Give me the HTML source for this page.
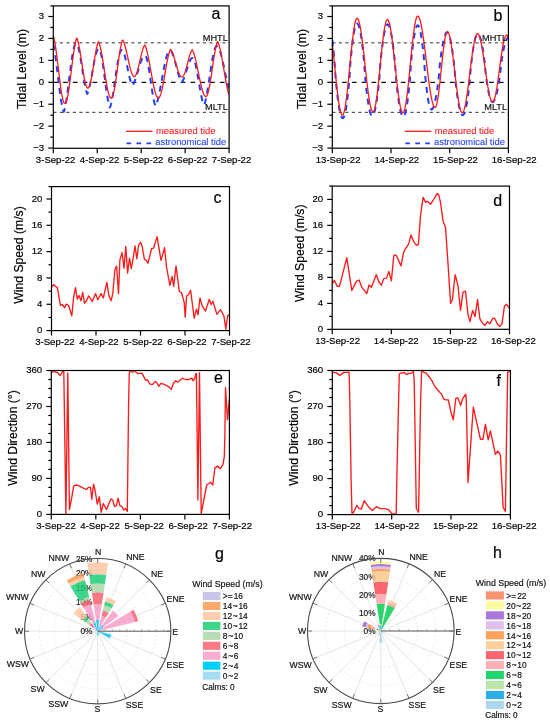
<!DOCTYPE html>
<html><head><meta charset="utf-8"><title>Tide and wind figure</title>
<style>html,body{margin:0;padding:0;background:#fff;}svg{display:block;}</style></head>
<body>
<svg width="550" height="723" viewBox="0 0 550 723" font-family='"Liberation Sans", Arial, sans-serif'><g>
<line x1="53.3" y1="42.83" x2="229.1" y2="42.83" stroke="#333" stroke-width="1.0" stroke-dasharray="3.2,3.3"/>
<line x1="53.3" y1="112.34" x2="229.1" y2="112.34" stroke="#333" stroke-width="1.0" stroke-dasharray="3.2,3.3"/>
<line x1="53.3" y1="82.3" x2="229.1" y2="82.3" stroke="#111" stroke-width="1.3" stroke-dasharray="4.7,5.1"/>
<clipPath id="cpa"><rect x="53.3" y="5.9" width="175.8" height="142.4"/></clipPath>
<polyline points="53.3,44.41 53.8,46.68 54.3,49.33 54.8,52.32 55.3,55.61 55.8,59.16 56.3,62.93 56.8,66.86 57.3,70.91 57.8,75.02 58.3,79.15 58.8,83.23 59.3,87.23 59.8,91.09 60.3,94.77 60.8,98.22 61.3,101.41 61.8,104.3 62.3,106.86 62.8,109.08 63.3,110.92 63.8,111.86 64.3,110.28 64.8,108.33 65.3,106.01 65.8,103.36 66.3,100.4 66.8,97.16 67.3,93.68 67.8,90 68.3,86.16 68.8,82.22 69.3,78.22 69.8,74.21 70.3,70.26 70.8,66.4 71.3,62.7 71.8,59.2 72.3,55.95 72.8,52.99 73.3,50.36 73.8,48.11 74.3,46.26 74.8,44.84 75.3,43.86 75.8,43.35 76.3,43.3 76.8,43.68 77.3,44.47 77.8,45.67 78.3,47.25 78.8,49.19 79.3,51.45 79.8,53.99 80.3,56.77 80.8,59.75 81.3,62.88 81.8,66.1 82.3,69.36 82.8,72.61 83.3,75.8 83.8,78.88 84.3,81.8 84.8,84.52 85.3,87 85.8,89.2 86.3,91.11 86.8,92.68 87.3,93.92 87.8,92.84 88.3,91.46 88.8,89.81 89.3,87.89 89.8,85.74 90.3,83.38 90.8,80.84 91.3,78.15 91.8,75.37 92.3,72.53 92.8,69.67 93.3,66.83 93.8,64.07 94.3,61.43 94.8,58.94 95.3,56.65 95.8,54.6 96.3,52.82 96.8,51.33 97.3,50.16 97.8,49.34 98.3,48.86 98.8,48.76 99.3,49.1 99.8,49.93 100.3,51.24 100.8,52.99 101.3,55.16 101.8,57.72 102.3,60.62 102.8,63.81 103.3,67.24 103.8,70.85 104.3,74.58 104.8,78.37 105.3,82.17 105.8,85.9 106.3,89.52 106.8,92.96 107.3,96.18 107.8,99.12 108.3,101.76 108.8,104.04 109.3,105.96 109.8,107.48 110.3,106.7 110.8,105.08 111.3,103.13 111.8,100.85 112.3,98.29 112.8,95.45 113.3,92.39 113.8,89.15 114.3,85.75 114.8,82.26 115.3,78.73 115.8,75.19 116.3,71.71 116.8,68.34 117.3,65.12 117.8,62.11 118.3,59.34 118.8,56.87 119.3,54.72 119.8,52.93 120.3,51.54 120.8,50.55 121.3,49.98 121.8,49.85 122.3,50.08 122.8,50.64 123.3,51.51 123.8,52.69 124.3,54.14 124.8,55.84 125.3,57.76 125.8,59.86 126.3,62.1 126.8,64.44 127.3,66.85 127.8,69.26 128.3,71.66 128.8,73.98 129.3,76.19 129.8,78.25 130.3,80.14 130.8,81.81 131.3,83.25 131.8,84.44 132.3,85.37 132.8,84.74 133.3,83.95 133.8,83.01 134.3,81.93 134.8,80.71 135.3,79.38 135.8,77.94 136.3,76.42 136.8,74.82 137.3,73.17 137.8,71.48 138.3,69.79 138.8,68.1 139.3,66.45 139.8,64.84 140.3,63.31 140.8,61.87 141.3,60.54 141.8,59.34 142.3,58.28 142.8,57.38 143.3,56.65 143.8,56.1 144.3,55.74 144.8,55.56 145.3,55.63 145.8,56.16 146.3,57.16 146.8,58.62 147.3,60.49 147.8,62.76 148.3,65.37 148.8,68.27 149.3,71.41 149.8,74.73 150.3,78.17 150.8,81.66 151.3,85.15 151.8,88.56 152.3,91.84 152.8,94.92 153.3,97.77 153.8,100.33 154.3,102.56 154.8,104.44 155.3,105.93 155.8,105.83 156.3,104.66 156.8,103.27 157.3,101.66 157.8,99.85 158.3,97.84 158.8,95.66 159.3,93.32 159.8,90.84 160.3,88.25 160.8,85.57 161.3,82.82 161.8,80.03 162.3,77.22 162.8,74.43 163.3,71.68 163.8,69 164.3,66.41 164.8,63.95 165.3,61.63 165.8,59.47 166.3,57.51 166.8,55.76 167.3,54.24 167.8,52.96 168.3,51.94 168.8,51.18 169.3,50.7 169.8,50.51 170.3,50.58 170.8,50.89 171.3,51.43 171.8,52.2 172.3,53.18 172.8,54.36 173.3,55.72 173.8,57.24 174.3,58.89 174.8,60.66 175.3,62.51 175.8,64.43 176.3,66.37 176.8,68.31 177.3,70.22 177.8,72.09 178.3,73.87 178.8,75.55 179.3,77.11 179.8,78.52 180.3,79.77 180.8,80.84 181.3,81.73 181.8,82.19 182.3,81.53 182.8,80.7 183.3,79.71 183.8,78.56 184.3,77.28 184.8,75.88 185.3,74.39 185.8,72.82 186.3,71.22 186.8,69.59 187.3,67.97 187.8,66.4 188.3,64.88 188.8,63.47 189.3,62.17 189.8,61.01 190.3,60.01 190.8,59.2 191.3,58.58 191.8,58.17 192.3,57.98 192.8,58.03 193.3,58.44 193.8,59.22 194.3,60.35 194.8,61.82 195.3,63.6 195.8,65.67 196.3,67.99 196.8,70.52 197.3,73.23 197.8,76.07 198.3,78.99 198.8,81.96 199.3,84.93 199.8,87.85 200.3,90.67 200.8,93.37 201.3,95.89 201.8,98.22 202.3,100.3 202.8,102.12 203.3,103.67 203.8,104.91 204.3,104.61 204.8,103.17 205.3,101.42 205.8,99.38 206.3,97.08 206.8,94.52 207.3,91.75 207.8,88.78 208.3,85.66 208.8,82.42 209.3,79.1 209.8,75.74 210.3,72.38 210.8,69.06 211.3,65.83 211.8,62.73 212.3,59.79 212.8,57.06 213.3,54.57 213.8,52.35 214.3,50.44 214.8,48.85 215.3,47.61 215.8,46.74 216.3,46.24 216.8,46.12 217.3,46.29 217.8,46.68 218.3,47.31 218.8,48.17 219.3,49.24 219.8,50.52 220.3,51.98 220.8,53.63 221.3,55.44 221.8,57.4 222.3,59.48 222.8,61.68 223.3,63.95 223.8,66.29 224.3,68.68 224.8,71.08 225.3,73.49 225.8,75.87 226.3,78.2 226.8,80.47 227.3,82.66 227.8,84.74 228.3,86.69 228.8,88.51" fill="none" stroke="#1f3cff" stroke-width="2.0" stroke-linejoin="round" stroke-dasharray="6,5" clip-path="url(#cpa)"/>
<polyline points="53.3,35.82 53.8,37.64 54.3,39.85 54.8,42.44 55.3,45.38 55.8,48.64 56.3,52.17 56.8,55.94 57.3,59.89 57.8,63.96 58.3,68.11 58.8,72.27 59.3,76.39 59.8,80.4 60.3,84.25 60.8,87.88 61.3,91.23 61.8,94.27 62.3,96.93 62.8,99.19 63.3,101 63.8,102.35 64.3,103.21 64.8,103.56 65.3,103.41 65.8,102.77 66.3,101.65 66.8,100.06 67.3,98.03 67.8,95.59 68.3,92.78 68.8,89.63 69.3,86.21 69.8,82.55 70.3,78.72 70.8,74.76 71.3,70.75 71.8,66.73 72.3,62.77 72.8,58.91 73.3,55.22 73.8,51.74 74.3,48.52 74.8,45.6 75.3,43.02 75.8,40.8 76.3,38.96 76.8,38 77.3,39.3 77.8,40.94 78.3,42.9 78.8,45.15 79.3,47.67 79.8,50.42 80.3,53.36 80.8,56.45 81.3,59.65 81.8,62.89 82.3,66.14 82.8,69.33 83.3,72.41 83.8,75.34 84.3,78.07 84.8,80.55 85.3,82.74 85.8,84.59 86.3,86.09 86.8,87.21 87.3,87.92 87.8,88.21 88.3,88.08 88.8,87.52 89.3,86.53 89.8,85.13 90.3,83.36 90.8,81.24 91.3,78.81 91.8,76.13 92.3,73.24 92.8,70.19 93.3,67.04 93.8,63.84 94.3,60.66 94.8,57.55 95.3,54.57 95.8,51.76 96.3,49.17 96.8,46.84 97.3,44.81 97.8,43.1 98.3,41.74 98.8,41.98 99.3,43.37 99.8,45.05 100.3,47.01 100.8,49.24 101.3,51.7 101.8,54.37 102.3,57.22 102.8,60.23 103.3,63.35 103.8,66.55 104.3,69.79 104.8,73.02 105.3,76.21 105.8,79.32 106.3,82.31 106.8,85.14 107.3,87.77 107.8,90.17 108.3,92.3 108.8,94.15 109.3,95.67 109.8,96.87 110.3,97.71 110.8,98.19 111.3,98.3 111.8,97.97 112.3,97.17 112.8,95.92 113.3,94.24 113.8,92.15 114.3,89.7 114.8,86.91 115.3,83.83 115.8,80.52 116.3,77.03 116.8,73.41 117.3,69.71 117.8,66.01 118.3,62.35 118.8,58.79 119.3,55.38 119.8,52.17 120.3,49.21 120.8,46.54 121.3,44.19 121.8,42.18 122.3,40.55 122.8,40.07 123.3,41.03 123.8,42.22 124.3,43.62 124.8,45.22 125.3,47 125.8,48.94 126.3,51.01 126.8,53.19 127.3,55.43 127.8,57.72 128.3,60.01 128.8,62.27 129.3,64.47 129.8,66.57 130.3,68.54 130.8,70.36 131.3,71.98 131.8,73.39 132.3,74.56 132.8,75.48 133.3,76.14 133.8,76.51 134.3,76.59 134.8,76.38 135.3,75.87 135.8,75.08 136.3,74.01 136.8,72.68 137.3,71.14 137.8,69.39 138.3,67.48 138.8,65.45 139.3,63.32 139.8,61.15 140.3,58.96 140.8,56.81 141.3,54.72 141.8,52.74 142.3,50.9 142.8,49.23 143.3,47.75 143.8,46.48 144.3,45.45 144.8,44.99 145.3,46.07 145.8,47.4 146.3,48.96 146.8,50.73 147.3,52.71 147.8,54.88 148.3,57.22 148.8,59.7 149.3,62.3 149.8,64.99 150.3,67.75 150.8,70.55 151.3,73.36 151.8,76.14 152.3,78.88 152.8,81.53 153.3,84.07 153.8,86.47 154.3,88.7 154.8,90.74 155.3,92.57 155.8,94.17 156.3,95.51 156.8,96.58 157.3,97.37 157.8,97.88 158.3,98.08 158.8,97.98 159.3,97.52 159.8,96.73 160.3,95.6 160.8,94.17 161.3,92.44 161.8,90.44 162.3,88.2 162.8,85.75 163.3,83.14 163.8,80.39 164.3,77.54 164.8,74.64 165.3,71.72 165.8,68.83 166.3,66 166.8,63.27 167.3,60.68 167.8,58.26 168.3,56.04 168.8,54.04 169.3,52.29 169.8,50.8 170.3,49.59 170.8,49.56 171.3,50.33 171.8,51.27 172.3,52.37 172.8,53.63 173.3,55.02 173.8,56.53 174.3,58.13 174.8,59.8 175.3,61.53 175.8,63.27 176.3,65.02 176.8,66.73 177.3,68.38 177.8,69.96 178.3,71.42 178.8,72.76 179.3,73.94 179.8,74.95 180.3,75.78 180.8,76.41 181.3,76.82 181.8,77.02 182.3,76.99 182.8,76.68 183.3,76.11 183.8,75.29 184.3,74.22 184.8,72.93 185.3,71.45 185.8,69.81 186.3,68.04 186.8,66.18 187.3,64.26 187.8,62.32 188.3,60.4 188.8,58.53 189.3,56.76 189.8,55.1 190.3,53.59 190.8,52.26 191.3,51.13 191.8,50.2 192.3,49.79 192.8,50.75 193.3,51.92 193.8,53.29 194.3,54.85 194.8,56.59 195.3,58.5 195.8,60.56 196.3,62.74 196.8,65.03 197.3,67.41 197.8,69.84 198.3,72.3 198.8,74.77 199.3,77.23 199.8,79.63 200.3,81.97 200.8,84.21 201.3,86.32 201.8,88.29 202.3,90.09 202.8,91.7 203.3,93.1 203.8,94.28 204.3,95.23 204.8,95.92 205.3,96.37 205.8,96.55 206.3,96.42 206.8,95.87 207.3,94.91 207.8,93.55 208.3,91.82 208.8,89.74 209.3,87.34 209.8,84.66 210.3,81.74 210.8,78.63 211.3,75.37 211.8,72.02 212.3,68.61 212.8,65.21 213.3,61.86 213.8,58.61 214.3,55.51 214.8,52.59 215.3,49.9 215.8,47.47 216.3,45.34 216.8,43.51 217.3,42.02 217.8,41.7 218.3,42.9 218.8,44.36 219.3,46.05 219.8,47.97 220.3,50.1 220.8,52.42 221.3,54.92 221.8,57.57 222.3,60.34 222.8,63.21 223.3,66.15 223.8,69.12 224.3,72.1 224.8,75.06 225.3,77.97 225.8,80.79 226.3,83.49 226.8,86.05 227.3,88.44 227.8,90.63 228.3,92.6 228.8,94.32" fill="none" stroke="#ff1a1a" stroke-width="1.3" stroke-linejoin="round" clip-path="url(#cpa)"/>
<line x1="50.3" y1="5.9" x2="53.3" y2="5.9" stroke="#000" stroke-width="1.2" />
<rect x="53.3" y="5.9" width="175.8" height="142.4" fill="none" stroke="#000" stroke-width="1.2"/>
<line x1="48.3" y1="148.09" x2="53.3" y2="148.09" stroke="#000" stroke-width="1.2" />
<line x1="48.3" y1="126.16" x2="53.3" y2="126.16" stroke="#000" stroke-width="1.2" />
<line x1="48.3" y1="104.23" x2="53.3" y2="104.23" stroke="#000" stroke-width="1.2" />
<line x1="48.3" y1="82.3" x2="53.3" y2="82.3" stroke="#000" stroke-width="1.2" />
<line x1="48.3" y1="60.37" x2="53.3" y2="60.37" stroke="#000" stroke-width="1.2" />
<line x1="48.3" y1="38.44" x2="53.3" y2="38.44" stroke="#000" stroke-width="1.2" />
<line x1="48.3" y1="16.51" x2="53.3" y2="16.51" stroke="#000" stroke-width="1.2" />
<line x1="50.3" y1="137.12" x2="53.3" y2="137.12" stroke="#000" stroke-width="1.2" />
<line x1="50.3" y1="115.19" x2="53.3" y2="115.19" stroke="#000" stroke-width="1.2" />
<line x1="50.3" y1="93.27" x2="53.3" y2="93.27" stroke="#000" stroke-width="1.2" />
<line x1="50.3" y1="71.33" x2="53.3" y2="71.33" stroke="#000" stroke-width="1.2" />
<line x1="50.3" y1="49.41" x2="53.3" y2="49.41" stroke="#000" stroke-width="1.2" />
<line x1="50.3" y1="27.47" x2="53.3" y2="27.47" stroke="#000" stroke-width="1.2" />
<text x="44.2" y="150.85" font-size="9.6" text-anchor="end" fill="#000" stroke="#000" stroke-width="0.18" >−3</text>
<text x="44.2" y="128.92" font-size="9.6" text-anchor="end" fill="#000" stroke="#000" stroke-width="0.18" >−2</text>
<text x="44.2" y="106.99" font-size="9.6" text-anchor="end" fill="#000" stroke="#000" stroke-width="0.18" >−1</text>
<text x="44.2" y="85.06" font-size="9.6" text-anchor="end" fill="#000" stroke="#000" stroke-width="0.18" >0</text>
<text x="44.2" y="63.13" font-size="9.6" text-anchor="end" fill="#000" stroke="#000" stroke-width="0.18" >1</text>
<text x="44.2" y="41.2" font-size="9.6" text-anchor="end" fill="#000" stroke="#000" stroke-width="0.18" >2</text>
<text x="44.2" y="19.27" font-size="9.6" text-anchor="end" fill="#000" stroke="#000" stroke-width="0.18" >3</text>
<line x1="53.3" y1="148.3" x2="53.3" y2="153.3" stroke="#000" stroke-width="1.2" />
<line x1="97.25" y1="148.3" x2="97.25" y2="153.3" stroke="#000" stroke-width="1.2" />
<line x1="141.2" y1="148.3" x2="141.2" y2="153.3" stroke="#000" stroke-width="1.2" />
<line x1="185.15" y1="148.3" x2="185.15" y2="153.3" stroke="#000" stroke-width="1.2" />
<line x1="229.1" y1="148.3" x2="229.1" y2="153.3" stroke="#000" stroke-width="1.2" />
<text x="55.6" y="163.1" font-size="9.6" text-anchor="middle" fill="#000" stroke="#000" stroke-width="0.18" >3-Sep-22</text>
<text x="99.59" y="163.1" font-size="9.6" text-anchor="middle" fill="#000" stroke="#000" stroke-width="0.18" >4-Sep-22</text>
<text x="143.58" y="163.1" font-size="9.6" text-anchor="middle" fill="#000" stroke="#000" stroke-width="0.18" >5-Sep-22</text>
<text x="187.57" y="163.1" font-size="9.6" text-anchor="middle" fill="#000" stroke="#000" stroke-width="0.18" >6-Sep-22</text>
<text x="231.56" y="163.1" font-size="9.6" text-anchor="middle" fill="#000" stroke="#000" stroke-width="0.18" >7-Sep-22</text>
<text x="227.8" y="40.83" font-size="9.2" text-anchor="end" fill="#111" stroke="#111" stroke-width="0.18" >MHTL</text>
<text x="227.8" y="110.44" font-size="9.2" text-anchor="end" fill="#111" stroke="#111" stroke-width="0.18" >MLTL</text>
<text x="211.4" y="19.1" font-size="16" text-anchor="start" fill="#000" stroke="#000" stroke-width="0.18" >a</text>
<line x1="126" y1="131.3" x2="152.5" y2="131.3" stroke="#ff1a1a" stroke-width="1.3" />
<line x1="126.5" y1="143.4" x2="152.5" y2="143.4" stroke="#1f3cff" stroke-width="1.8" stroke-dasharray="4.6,5.4"/>
<text x="156" y="134.1" font-size="9.4" text-anchor="start" fill="#ff1a1a" stroke="#ff1a1a" stroke-width="0.1" >measured tide</text>
<text x="155.3" y="145.4" font-size="9.4" text-anchor="start" fill="#2244ff" stroke="#2244ff" stroke-width="0.1" >astronomical tide</text>
<line x1="332.3" y1="42.83" x2="508.4" y2="42.83" stroke="#333" stroke-width="1.0" stroke-dasharray="3.2,3.3"/>
<line x1="332.3" y1="112.34" x2="508.4" y2="112.34" stroke="#333" stroke-width="1.0" stroke-dasharray="3.2,3.3"/>
<line x1="332.3" y1="82.3" x2="508.4" y2="82.3" stroke="#111" stroke-width="1.3" stroke-dasharray="4.7,5.1"/>
<clipPath id="cpb"><rect x="332.3" y="5.9" width="176.1" height="142.3"/></clipPath>
<polyline points="332.3,39.75 332.8,43.94 333.3,48.52 333.8,53.51 334.3,59.06 334.8,65.65 335.3,74.17 335.8,80.21 336.3,85.51 336.8,90.33 337.3,94.75 337.8,98.79 338.3,102.48 338.8,105.79 339.3,108.74 339.8,111.3 340.3,113.48 340.8,115.26 341.3,116.63 341.8,117.59 342.3,118.13 342.8,118.26 343.3,117.93 343.8,117.15 344.3,115.91 344.8,114.22 345.3,112.09 345.8,109.53 346.3,106.55 346.8,103.15 347.3,99.36 347.8,95.16 348.3,90.55 348.8,85.48 349.3,79.82 349.8,72.95 350.3,64.49 350.8,58.49 351.3,53.21 351.8,48.43 352.3,44.06 352.8,40.11 353.3,36.55 353.8,33.41 354.3,30.68 354.8,28.37 355.3,26.51 355.8,25.09 356.3,24.12 356.8,23.61 357.3,23.56 357.8,23.93 358.3,24.7 358.8,25.88 359.3,27.46 359.8,29.43 360.3,31.78 360.8,34.51 361.3,37.6 361.8,41.05 362.3,44.85 362.8,49.02 363.3,53.57 363.8,58.59 364.3,64.31 364.8,72.38 365.3,78.62 365.8,83.87 366.3,88.59 366.8,92.91 367.3,96.86 367.8,100.45 368.3,103.68 368.8,106.55 369.3,109.06 369.8,111.18 370.3,112.91 370.8,114.25 371.3,115.19 371.8,115.72 372.3,115.85 372.8,115.58 373.3,114.92 373.8,113.89 374.3,112.48 374.8,110.7 375.3,108.56 375.8,106.06 376.3,103.22 376.8,100.04 377.3,96.52 377.8,92.67 378.3,88.47 378.8,83.88 379.3,78.78 379.8,72.74 380.3,64.91 380.8,59.36 381.3,54.49 381.8,50.06 382.3,46.01 382.8,42.29 383.3,38.91 383.8,35.86 384.3,33.15 384.8,30.8 385.3,28.8 385.8,27.17 386.3,25.91 386.8,25.03 387.3,24.53 387.8,24.41 388.3,24.68 388.8,25.33 389.3,26.36 389.8,27.77 390.3,29.54 390.8,31.68 391.3,34.16 391.8,37 392.3,40.17 392.8,43.68 393.3,47.52 393.8,51.71 394.3,56.28 394.8,61.33 395.3,67.25 395.8,75.19 396.3,80.86 396.8,85.81 397.3,90.3 397.8,94.41 398.3,98.18 398.8,101.62 399.3,104.73 399.8,107.5 400.3,109.91 400.8,111.98 401.3,113.68 401.8,115.01 402.3,115.96 402.8,116.54 403.3,116.73 403.8,116.51 404.3,115.84 404.8,114.73 405.3,113.19 405.8,111.21 406.3,108.82 406.8,106.03 407.3,102.83 407.8,99.24 408.3,95.27 408.8,90.9 409.3,86.1 409.8,80.77 410.3,74.51 410.8,66.12 411.3,60.12 411.8,54.91 412.3,50.21 412.8,45.92 413.3,42.02 413.8,38.51 414.3,35.39 414.8,32.68 415.3,30.37 415.8,28.48 416.3,27.02 416.8,26 417.3,25.42 417.8,25.29 418.3,25.6 418.8,26.36 419.3,27.56 419.8,29.19 420.3,31.25 420.8,33.73 421.3,36.6 421.8,39.88 422.3,43.54 422.8,47.59 423.3,52.06 423.8,57.02 424.3,62.73 424.8,70.73 425.3,76.69 425.8,81.77 426.3,86.33 426.8,90.46 427.3,94.2 427.8,97.55 428.3,100.51 428.8,103.06 429.3,105.2 429.8,106.92 430.3,108.21 430.8,109.06 431.3,109.46 431.8,109.44 432.3,109.08 432.8,108.41 433.3,107.42 433.8,106.13 434.3,104.52 434.8,102.62 435.3,100.42 435.8,97.94 436.3,95.17 436.8,92.13 437.3,88.8 437.8,85.18 438.3,81.21 438.8,76.76 439.3,70.9 439.8,65.03 440.3,60.58 440.8,56.61 441.3,52.99 441.8,49.66 442.3,46.62 442.8,43.86 443.3,41.37 443.8,39.18 444.3,37.27 444.8,35.67 445.3,34.37 445.8,33.38 446.3,32.71 446.8,32.36 447.3,32.33 447.8,32.64 448.3,33.29 448.8,34.28 449.3,35.61 449.8,37.27 450.3,39.25 450.8,41.55 451.3,44.15 451.8,47.06 452.3,50.27 452.8,53.78 453.3,57.6 453.8,61.78 454.3,66.44 454.8,72.06 455.3,79 455.8,83.92 456.3,88.26 456.8,92.22 457.3,95.86 457.8,99.19 458.3,102.21 458.8,104.94 459.3,107.36 459.8,109.47 460.3,111.26 460.8,112.72 461.3,113.85 461.8,114.64 462.3,115.08 462.8,115.19 463.3,114.94 463.8,114.33 464.3,113.36 464.8,112.04 465.3,110.38 465.8,108.38 466.3,106.05 466.8,103.4 467.3,100.43 467.8,97.15 468.3,93.55 468.8,89.62 469.3,85.3 469.8,80.44 470.3,73.66 470.8,67.78 471.3,63.05 471.8,58.81 472.3,54.95 472.8,51.42 473.3,48.2 473.8,45.29 474.3,42.71 474.8,40.44 475.3,38.51 475.8,36.92 476.3,35.67 476.8,34.77 477.3,34.23 477.8,34.05 478.3,34.21 478.8,34.68 479.3,35.46 479.8,36.55 480.3,37.94 480.8,39.62 481.3,41.59 481.8,43.85 482.3,46.38 482.8,49.18 483.3,52.26 483.8,55.63 484.3,59.34 484.8,63.55 485.3,69.49 485.8,74.3 486.3,78.28 486.8,81.85 487.3,85.1 487.8,88.06 488.3,90.76 488.8,93.18 489.3,95.32 489.8,97.18 490.3,98.74 490.8,100.01 491.3,100.98 491.8,101.64 492.3,101.98 492.8,102.02 493.3,101.78 493.8,101.29 494.3,100.55 494.8,99.55 495.3,98.3 495.8,96.81 496.3,95.08 496.8,93.12 497.3,90.94 497.8,88.52 498.3,85.88 498.8,83.01 499.3,79.88 499.8,76.43 500.3,72.44 500.8,66.95 501.3,62.95 501.8,59.5 502.3,56.37 502.8,53.5 503.3,50.86 503.8,48.44 504.3,46.26 504.8,44.3 505.3,42.57 505.8,41.08 506.3,39.83 506.8,38.83 507.3,38.09 507.8,37.6 508.3,37.36" fill="none" stroke="#1f3cff" stroke-width="2.0" stroke-linejoin="round" stroke-dasharray="6,5" clip-path="url(#cpb)"/>
<polyline points="332.3,43.93 332.8,48.34 333.3,52.95 333.8,57.71 334.3,62.58 334.8,67.5 335.3,72.42 335.8,77.29 336.3,82.05 336.8,86.66 337.3,91.06 337.8,95.21 338.3,99.07 338.8,102.59 339.3,105.73 339.8,108.47 340.3,110.77 340.8,112.61 341.3,113.97 341.8,114.83 342.3,115.18 342.8,115.02 343.3,114.3 343.8,113.04 344.3,111.25 344.8,108.96 345.3,106.18 345.8,102.95 346.3,99.31 346.8,95.3 347.3,90.96 347.8,86.35 348.3,81.51 348.8,76.5 349.3,71.38 349.8,66.21 350.3,61.05 350.8,55.95 351.3,50.97 351.8,46.17 352.3,41.61 352.8,37.33 353.3,33.39 353.8,29.83 354.3,26.69 354.8,24 355.3,21.81 355.8,20.12 356.3,18.97 356.8,18.36 357.3,18.3 357.8,18.71 358.3,19.57 358.8,20.88 359.3,22.62 359.8,24.77 360.3,27.32 360.8,30.23 361.3,33.48 361.8,37.04 362.3,40.88 362.8,44.95 363.3,49.22 363.8,53.64 364.3,58.17 364.8,62.77 365.3,67.4 365.8,72 366.3,76.53 366.8,80.95 367.3,85.22 367.8,89.29 368.3,93.13 368.8,96.69 369.3,99.94 369.8,102.85 370.3,105.4 370.8,107.55 371.3,109.29 371.8,110.6 372.3,111.46 372.8,111.87 373.3,111.81 373.8,111.2 374.3,110.06 374.8,108.39 375.3,106.21 375.8,103.56 376.3,100.45 376.8,96.93 377.3,93.04 377.8,88.82 378.3,84.33 378.8,79.62 379.3,74.75 379.8,69.77 380.3,64.74 380.8,59.72 381.3,54.77 381.8,49.95 382.3,45.33 382.8,40.94 383.3,36.85 383.8,33.1 384.3,29.74 384.8,26.81 385.3,24.34 385.8,22.36 386.3,20.9 386.8,19.98 387.3,19.59 387.8,19.73 388.3,20.35 388.8,21.44 389.3,22.99 389.8,24.99 390.3,27.4 390.8,30.21 391.3,33.4 391.8,36.92 392.3,40.73 392.8,44.81 393.3,49.11 393.8,53.59 394.3,58.19 394.8,62.88 395.3,67.6 395.8,72.3 396.3,76.95 396.8,81.48 397.3,85.85 397.8,90.03 398.3,93.95 398.8,97.6 399.3,100.92 399.8,103.88 400.3,106.46 400.8,108.62 401.3,110.35 401.8,111.63 402.3,112.44 402.8,112.77 403.3,112.61 403.8,111.9 404.3,110.66 404.8,108.9 405.3,106.64 405.8,103.91 406.3,100.73 406.8,97.14 407.3,93.18 407.8,88.9 408.3,84.34 408.8,79.56 409.3,74.61 409.8,69.55 410.3,64.43 410.8,59.3 411.3,54.24 411.8,49.29 412.3,44.51 412.8,39.95 413.3,35.67 413.8,31.72 414.3,28.13 414.8,24.95 415.3,22.21 415.8,19.95 416.3,18.19 416.8,16.95 417.3,16.25 417.8,16.08 418.3,16.34 418.8,16.97 419.3,17.97 419.8,19.32 420.3,21.02 420.8,23.05 421.3,25.39 421.8,28.04 422.3,30.96 422.8,34.12 423.3,37.52 423.8,41.11 424.3,44.87 424.8,48.77 425.3,52.77 425.8,56.85 426.3,60.97 426.8,65.09 427.3,69.19 427.8,73.23 428.3,77.18 428.8,80.99 429.3,84.66 429.8,88.13 430.3,91.4 430.8,94.42 431.3,97.17 431.8,99.64 432.3,101.8 432.8,103.63 433.3,105.13 433.8,106.27 434.3,107.04 434.8,107.45 435.3,107.47 435.8,106.91 436.3,105.75 436.8,104 437.3,101.69 437.8,98.85 438.3,95.54 438.8,91.8 439.3,87.7 439.8,83.31 440.3,78.7 440.8,73.93 441.3,69.1 441.8,64.27 442.3,59.53 442.8,54.95 443.3,50.61 443.8,46.58 444.3,42.93 444.8,39.7 445.3,36.97 445.8,34.77 446.3,33.13 446.8,32.09 447.3,31.65 447.8,31.79 448.3,32.38 448.8,33.42 449.3,34.9 449.8,36.79 450.3,39.09 450.8,41.76 451.3,44.77 451.8,48.09 452.3,51.68 452.8,55.5 453.3,59.51 453.8,63.66 454.3,67.91 454.8,72.21 455.3,76.51 455.8,80.76 456.3,84.91 456.8,88.92 457.3,92.75 457.8,96.34 458.3,99.66 458.8,102.67 459.3,105.34 459.8,107.63 460.3,109.53 460.8,111 461.3,112.04 461.8,112.64 462.3,112.77 462.8,112.48 463.3,111.78 463.8,110.67 464.3,109.16 464.8,107.27 465.3,105.03 465.8,102.45 466.3,99.56 466.8,96.4 467.3,92.99 467.8,89.37 468.3,85.59 468.8,81.67 469.3,77.66 469.8,73.61 470.3,69.55 470.8,65.53 471.3,61.59 471.8,57.77 472.3,54.12 472.8,50.66 473.3,47.45 473.8,44.5 474.3,41.86 474.8,39.54 475.3,37.59 475.8,36 476.3,34.81 476.8,34.02 477.3,33.65 477.8,33.68 478.3,34.09 478.8,34.86 479.3,35.99 479.8,37.46 480.3,39.26 480.8,41.37 481.3,43.76 481.8,46.42 482.3,49.3 482.8,52.39 483.3,55.64 483.8,59.03 484.3,62.51 484.8,66.05 485.3,69.6 485.8,73.14 486.3,76.62 486.8,80.01 487.3,83.26 487.8,86.35 488.3,89.24 488.8,91.89 489.3,94.29 489.8,96.39 490.3,98.19 490.8,99.67 491.3,100.79 491.8,101.56 492.3,101.97 492.8,102 493.3,101.62 493.8,100.81 494.3,99.6 494.8,97.99 495.3,96 495.8,93.66 496.3,91.01 496.8,88.07 497.3,84.88 497.8,81.48 498.3,77.92 498.8,74.24 499.3,70.48 499.8,66.71 500.3,62.95 500.8,59.27 501.3,55.71 501.8,52.31 502.3,49.12 502.8,46.18 503.3,43.52 503.8,41.19 504.3,39.2 504.8,37.59 505.3,36.37 505.8,35.57 506.3,35.18 506.8,35.21 507.3,35.6 507.8,36.34 508.3,37.42" fill="none" stroke="#ff1a1a" stroke-width="1.3" stroke-linejoin="round" clip-path="url(#cpb)"/>
<line x1="329.3" y1="5.9" x2="332.3" y2="5.9" stroke="#000" stroke-width="1.2" />
<rect x="332.3" y="5.9" width="176.1" height="142.3" fill="none" stroke="#000" stroke-width="1.2"/>
<line x1="327.3" y1="148.09" x2="332.3" y2="148.09" stroke="#000" stroke-width="1.2" />
<line x1="327.3" y1="126.16" x2="332.3" y2="126.16" stroke="#000" stroke-width="1.2" />
<line x1="327.3" y1="104.23" x2="332.3" y2="104.23" stroke="#000" stroke-width="1.2" />
<line x1="327.3" y1="82.3" x2="332.3" y2="82.3" stroke="#000" stroke-width="1.2" />
<line x1="327.3" y1="60.37" x2="332.3" y2="60.37" stroke="#000" stroke-width="1.2" />
<line x1="327.3" y1="38.44" x2="332.3" y2="38.44" stroke="#000" stroke-width="1.2" />
<line x1="327.3" y1="16.51" x2="332.3" y2="16.51" stroke="#000" stroke-width="1.2" />
<line x1="329.3" y1="137.12" x2="332.3" y2="137.12" stroke="#000" stroke-width="1.2" />
<line x1="329.3" y1="115.19" x2="332.3" y2="115.19" stroke="#000" stroke-width="1.2" />
<line x1="329.3" y1="93.27" x2="332.3" y2="93.27" stroke="#000" stroke-width="1.2" />
<line x1="329.3" y1="71.33" x2="332.3" y2="71.33" stroke="#000" stroke-width="1.2" />
<line x1="329.3" y1="49.41" x2="332.3" y2="49.41" stroke="#000" stroke-width="1.2" />
<line x1="329.3" y1="27.47" x2="332.3" y2="27.47" stroke="#000" stroke-width="1.2" />
<text x="323.2" y="150.85" font-size="9.6" text-anchor="end" fill="#000" stroke="#000" stroke-width="0.18" >−3</text>
<text x="323.2" y="128.92" font-size="9.6" text-anchor="end" fill="#000" stroke="#000" stroke-width="0.18" >−2</text>
<text x="323.2" y="106.99" font-size="9.6" text-anchor="end" fill="#000" stroke="#000" stroke-width="0.18" >−1</text>
<text x="323.2" y="85.06" font-size="9.6" text-anchor="end" fill="#000" stroke="#000" stroke-width="0.18" >0</text>
<text x="323.2" y="63.13" font-size="9.6" text-anchor="end" fill="#000" stroke="#000" stroke-width="0.18" >1</text>
<text x="323.2" y="41.2" font-size="9.6" text-anchor="end" fill="#000" stroke="#000" stroke-width="0.18" >2</text>
<text x="323.2" y="19.27" font-size="9.6" text-anchor="end" fill="#000" stroke="#000" stroke-width="0.18" >3</text>
<line x1="332.3" y1="148.2" x2="332.3" y2="153.2" stroke="#000" stroke-width="1.2" />
<line x1="391" y1="148.2" x2="391" y2="153.2" stroke="#000" stroke-width="1.2" />
<line x1="449.7" y1="148.2" x2="449.7" y2="153.2" stroke="#000" stroke-width="1.2" />
<line x1="508.4" y1="148.2" x2="508.4" y2="153.2" stroke="#000" stroke-width="1.2" />
<text x="338.15" y="163" font-size="9.6" text-anchor="middle" fill="#000" stroke="#000" stroke-width="0.18" >13-Sep-22</text>
<text x="396.82" y="163" font-size="9.6" text-anchor="middle" fill="#000" stroke="#000" stroke-width="0.18" >14-Sep-22</text>
<text x="455.49" y="163" font-size="9.6" text-anchor="middle" fill="#000" stroke="#000" stroke-width="0.18" >15-Sep-22</text>
<text x="514.16" y="163" font-size="9.6" text-anchor="middle" fill="#000" stroke="#000" stroke-width="0.18" >16-Sep-22</text>
<text x="507.1" y="40.83" font-size="9.2" text-anchor="end" fill="#111" stroke="#111" stroke-width="0.18" >MHTL</text>
<text x="507.1" y="110.44" font-size="9.2" text-anchor="end" fill="#111" stroke="#111" stroke-width="0.18" >MLTL</text>
<text x="493.5" y="20.5" font-size="16" text-anchor="start" fill="#000" stroke="#000" stroke-width="0.18" >b</text>
<line x1="404.8" y1="131.3" x2="431.3" y2="131.3" stroke="#ff1a1a" stroke-width="1.3" />
<line x1="405.3" y1="143.4" x2="431.3" y2="143.4" stroke="#1f3cff" stroke-width="1.8" stroke-dasharray="4.6,5.4"/>
<text x="434.8" y="134.1" font-size="9.4" text-anchor="start" fill="#ff1a1a" stroke="#ff1a1a" stroke-width="0.1" >measured tide</text>
<text x="434.1" y="145.4" font-size="9.4" text-anchor="start" fill="#2244ff" stroke="#2244ff" stroke-width="0.1" >astronomical tide</text>
<text x="0" y="0" font-size="12.2" text-anchor="middle" stroke="#000" stroke-width="0.18" transform="translate(26.4,69) rotate(-90)">Tidal Level (m)</text>
<text x="0" y="0" font-size="12.2" text-anchor="middle" stroke="#000" stroke-width="0.18" transform="translate(305.6,69) rotate(-90)">Tidal Level (m)</text>
</g>
<polyline points="51.4,287.7 53.5,284.5 55.5,286.4 57.3,287.3 60.5,305.5 62.3,304.5 64.5,307.7 66.4,304.1 68.6,305.5 71.8,315.9 73.6,297.3 75.5,287.7 77.3,299.1 79.1,295.5 80.9,300.9 82.7,292.3 84.5,303.2 86.4,300.9 88.6,295.9 92.3,301.4 95.5,293.6 97.8,299.7 101.1,293.6 103.3,298 106.9,282.5 108.8,295.3 111,300.8 112.7,294.2 114.9,269.8 116.6,266 118.5,293.6 119.9,259.9 122.1,252.7 124,268.2 125.8,246.4 127.6,273.1 129.5,258.2 131.3,268.7 133.2,257.7 135,246 136.8,258.8 138.7,244.9 140.6,242.4 142.2,246.6 144.4,259.3 146.1,260.2 148,263.2 151.6,248.5 153.5,248.2 157.1,236.6 161,260.4 164.6,247.7 166.5,267 169.9,285.3 172.1,276.4 173.7,286.4 176,265.9 179.3,291.4 181.5,292.5 184.2,302.4 185.2,317.3 186.6,296 188.5,294.8 190.6,290.3 194.2,318.2 196.5,309.2 198,314.9 200,297.9 202.2,305.9 205.5,311.1 209.3,299.3 211.2,304.5 212.9,301.2 216.9,314.4 220.6,309.7 224,316.3 225.8,329.1 227.7,315.4 229.1,315.4" fill="none" stroke="#ff1a1a" stroke-width="1.35" stroke-linejoin="round" />
<line x1="48.5" y1="186.6" x2="51.5" y2="186.6" stroke="#000" stroke-width="1.2" />
<rect x="51.5" y="186.6" width="178" height="144" fill="none" stroke="#000" stroke-width="1.2"/>
<line x1="46.5" y1="330.6" x2="51.5" y2="330.6" stroke="#000" stroke-width="1.2" />
<line x1="46.5" y1="304.28" x2="51.5" y2="304.28" stroke="#000" stroke-width="1.2" />
<line x1="46.5" y1="277.96" x2="51.5" y2="277.96" stroke="#000" stroke-width="1.2" />
<line x1="46.5" y1="251.64" x2="51.5" y2="251.64" stroke="#000" stroke-width="1.2" />
<line x1="46.5" y1="225.32" x2="51.5" y2="225.32" stroke="#000" stroke-width="1.2" />
<line x1="46.5" y1="199" x2="51.5" y2="199" stroke="#000" stroke-width="1.2" />
<line x1="48.5" y1="317.44" x2="51.5" y2="317.44" stroke="#000" stroke-width="1.2" />
<line x1="48.5" y1="291.12" x2="51.5" y2="291.12" stroke="#000" stroke-width="1.2" />
<line x1="48.5" y1="264.8" x2="51.5" y2="264.8" stroke="#000" stroke-width="1.2" />
<line x1="48.5" y1="238.48" x2="51.5" y2="238.48" stroke="#000" stroke-width="1.2" />
<line x1="48.5" y1="212.16" x2="51.5" y2="212.16" stroke="#000" stroke-width="1.2" />
<text x="42.4" y="333.36" font-size="9.6" text-anchor="end" fill="#000" stroke="#000" stroke-width="0.18" >0</text>
<text x="42.4" y="307.04" font-size="9.6" text-anchor="end" fill="#000" stroke="#000" stroke-width="0.18" >4</text>
<text x="42.4" y="280.72" font-size="9.6" text-anchor="end" fill="#000" stroke="#000" stroke-width="0.18" >8</text>
<text x="42.4" y="254.4" font-size="9.6" text-anchor="end" fill="#000" stroke="#000" stroke-width="0.18" >12</text>
<text x="42.4" y="228.08" font-size="9.6" text-anchor="end" fill="#000" stroke="#000" stroke-width="0.18" >16</text>
<text x="42.4" y="201.76" font-size="9.6" text-anchor="end" fill="#000" stroke="#000" stroke-width="0.18" >20</text>
<line x1="51.5" y1="330.6" x2="51.5" y2="335.6" stroke="#000" stroke-width="1.2" />
<line x1="96" y1="330.6" x2="96" y2="335.6" stroke="#000" stroke-width="1.2" />
<line x1="140.5" y1="330.6" x2="140.5" y2="335.6" stroke="#000" stroke-width="1.2" />
<line x1="185" y1="330.6" x2="185" y2="335.6" stroke="#000" stroke-width="1.2" />
<line x1="229.5" y1="330.6" x2="229.5" y2="335.6" stroke="#000" stroke-width="1.2" />
<text x="54.9" y="345.4" font-size="9.6" text-anchor="middle" fill="#000" stroke="#000" stroke-width="0.18" >3-Sep-22</text>
<text x="98.89" y="345.4" font-size="9.6" text-anchor="middle" fill="#000" stroke="#000" stroke-width="0.18" >4-Sep-22</text>
<text x="142.88" y="345.4" font-size="9.6" text-anchor="middle" fill="#000" stroke="#000" stroke-width="0.18" >5-Sep-22</text>
<text x="186.87" y="345.4" font-size="9.6" text-anchor="middle" fill="#000" stroke="#000" stroke-width="0.18" >6-Sep-22</text>
<text x="230.86" y="345.4" font-size="9.6" text-anchor="middle" fill="#000" stroke="#000" stroke-width="0.18" >7-Sep-22</text>
<text x="213.5" y="202.5" font-size="16" text-anchor="start" fill="#000" stroke="#000" stroke-width="0.18" >c</text>
<polyline points="332.3,283.6 334.4,280.5 337.3,286.4 339.5,286.4 346.8,257.7 351.8,290.5 356.4,281.4 359.1,280 361.8,287.3 366.8,293.5 369.1,285 371.4,287.3 376.3,274.8 378.9,282 381.4,285.3 383.8,278.6 386.6,278.1 388.8,271.4 391.4,280.8 393.8,255.4 396.2,255.2 401,265.9 403.5,252.6 405.4,248.8 408.7,243.8 411,234.9 413.7,241.6 416.5,245.4 418.4,244.3 420.6,214.9 423.1,197.4 425.6,202.4 427.4,201.2 430.5,204.3 433.7,199.3 437.1,193.7 438.6,194.3 440.5,202.4 443,221.1 445.5,227.3 448.1,264.9 450.6,303.4 452.4,299.7 455.2,274.6 458,286 460.5,310.3 463,292.2 465.5,291.2 468,314.6 469.9,321.5 472.7,310.5 475,316.6 477.5,299.5 479.9,318.9 482.2,322.7 484.9,325.4 487.6,321.6 489.7,323.9 492.9,318.2 494.8,318.5 497.5,324.3 499.8,326.4 502.1,323.5 504.4,306.3 506.6,304.3 509.3,308.2" fill="none" stroke="#ff1a1a" stroke-width="1.35" stroke-linejoin="round" />
<line x1="329.2" y1="186.1" x2="332.2" y2="186.1" stroke="#000" stroke-width="1.2" />
<rect x="332.2" y="186.1" width="177.3" height="143.2" fill="none" stroke="#000" stroke-width="1.2"/>
<line x1="327.2" y1="329.4" x2="332.2" y2="329.4" stroke="#000" stroke-width="1.2" />
<line x1="327.2" y1="303.4" x2="332.2" y2="303.4" stroke="#000" stroke-width="1.2" />
<line x1="327.2" y1="277.4" x2="332.2" y2="277.4" stroke="#000" stroke-width="1.2" />
<line x1="327.2" y1="251.4" x2="332.2" y2="251.4" stroke="#000" stroke-width="1.2" />
<line x1="327.2" y1="225.4" x2="332.2" y2="225.4" stroke="#000" stroke-width="1.2" />
<line x1="327.2" y1="199.4" x2="332.2" y2="199.4" stroke="#000" stroke-width="1.2" />
<line x1="329.2" y1="316.4" x2="332.2" y2="316.4" stroke="#000" stroke-width="1.2" />
<line x1="329.2" y1="290.4" x2="332.2" y2="290.4" stroke="#000" stroke-width="1.2" />
<line x1="329.2" y1="264.4" x2="332.2" y2="264.4" stroke="#000" stroke-width="1.2" />
<line x1="329.2" y1="238.4" x2="332.2" y2="238.4" stroke="#000" stroke-width="1.2" />
<line x1="329.2" y1="212.4" x2="332.2" y2="212.4" stroke="#000" stroke-width="1.2" />
<text x="323.1" y="332.16" font-size="9.6" text-anchor="end" fill="#000" stroke="#000" stroke-width="0.18" >0</text>
<text x="323.1" y="306.16" font-size="9.6" text-anchor="end" fill="#000" stroke="#000" stroke-width="0.18" >4</text>
<text x="323.1" y="280.16" font-size="9.6" text-anchor="end" fill="#000" stroke="#000" stroke-width="0.18" >8</text>
<text x="323.1" y="254.16" font-size="9.6" text-anchor="end" fill="#000" stroke="#000" stroke-width="0.18" >12</text>
<text x="323.1" y="228.16" font-size="9.6" text-anchor="end" fill="#000" stroke="#000" stroke-width="0.18" >16</text>
<text x="323.1" y="202.16" font-size="9.6" text-anchor="end" fill="#000" stroke="#000" stroke-width="0.18" >20</text>
<line x1="332.2" y1="329.3" x2="332.2" y2="334.3" stroke="#000" stroke-width="1.2" />
<line x1="391.3" y1="329.3" x2="391.3" y2="334.3" stroke="#000" stroke-width="1.2" />
<line x1="450.4" y1="329.3" x2="450.4" y2="334.3" stroke="#000" stroke-width="1.2" />
<line x1="509.5" y1="329.3" x2="509.5" y2="334.3" stroke="#000" stroke-width="1.2" />
<text x="337.65" y="344.1" font-size="9.6" text-anchor="middle" fill="#000" stroke="#000" stroke-width="0.18" >13-Sep-22</text>
<text x="396.22" y="344.1" font-size="9.6" text-anchor="middle" fill="#000" stroke="#000" stroke-width="0.18" >14-Sep-22</text>
<text x="454.79" y="344.1" font-size="9.6" text-anchor="middle" fill="#000" stroke="#000" stroke-width="0.18" >15-Sep-22</text>
<text x="513.36" y="344.1" font-size="9.6" text-anchor="middle" fill="#000" stroke="#000" stroke-width="0.18" >16-Sep-22</text>
<text x="493.3" y="205.5" font-size="16" text-anchor="start" fill="#000" stroke="#000" stroke-width="0.18" >d</text>
<text x="0" y="0" font-size="12.2" text-anchor="middle" stroke="#000" stroke-width="0.18" transform="translate(23.1,255) rotate(-90)">Wind Speed (m/s)</text>
<text x="0" y="0" font-size="12.2" text-anchor="middle" stroke="#000" stroke-width="0.18" transform="translate(303.6,253.3) rotate(-90)">Wind Speed (m/s)</text>
<polyline points="51.5,372.6 53.3,371.2 55.5,371.9 57.3,372.6 60.2,375.5 62.4,371.9 63.8,370.8 65.9,514 67.8,373 69.4,509.5 71.8,497.3 73.6,486.4 75.5,485 78.6,485.6 82.3,487.7 86.4,489.5 88.6,487.3 90.5,487.3 91.8,499.1 93.6,484.1 95,490 97.3,504.1 99.3,496.8 101.2,512.3 103.2,503.6 106.5,509.5 110.9,498.9 112.7,500 114.5,506.4 116.4,505.9 118,498.2 120,505.9 121.8,506.4 123.6,510 125.5,508.6 127.3,511.4 128.6,404 129.3,372.6 130.9,371 132.5,372.1 134.7,371 138,373.7 141.8,373.2 143.4,375.9 145.6,380.3 147.3,379.7 150,384.1 152.7,384.4 155.4,381.4 157.1,383 158.7,386.3 160.9,383.3 163.6,384.1 168,386.3 171.3,389.2 173.4,383.5 175.6,380.8 177.7,382.2 179.9,380.3 182.6,378.3 185.4,379.5 188.6,379.7 191.9,378.1 193,380.8 194.6,378.6 195.7,374.3 196.4,373.5 197.9,500 199.5,372.6 201.2,513.6 206.7,485 210.7,482.3 212.8,485 214.8,468.1 217.5,466.1 220.2,468.8 222.9,464.7 224.3,456.6 224.9,435 225.5,387.4 227.5,419.7 229.3,399.9" fill="none" stroke="#ff1a1a" stroke-width="1.35" stroke-linejoin="round" />
<rect x="51.3" y="370.5" width="178.1" height="143.9" fill="none" stroke="#000" stroke-width="1.2"/>
<line x1="46.3" y1="514.4" x2="51.3" y2="514.4" stroke="#000" stroke-width="1.2" />
<line x1="46.3" y1="478.42" x2="51.3" y2="478.42" stroke="#000" stroke-width="1.2" />
<line x1="46.3" y1="442.45" x2="51.3" y2="442.45" stroke="#000" stroke-width="1.2" />
<line x1="46.3" y1="406.48" x2="51.3" y2="406.48" stroke="#000" stroke-width="1.2" />
<line x1="46.3" y1="370.5" x2="51.3" y2="370.5" stroke="#000" stroke-width="1.2" />
<line x1="48.3" y1="505.41" x2="51.3" y2="505.41" stroke="#000" stroke-width="1.2" />
<line x1="48.3" y1="496.41" x2="51.3" y2="496.41" stroke="#000" stroke-width="1.2" />
<line x1="48.3" y1="487.42" x2="51.3" y2="487.42" stroke="#000" stroke-width="1.2" />
<line x1="48.3" y1="469.43" x2="51.3" y2="469.43" stroke="#000" stroke-width="1.2" />
<line x1="48.3" y1="460.44" x2="51.3" y2="460.44" stroke="#000" stroke-width="1.2" />
<line x1="48.3" y1="451.44" x2="51.3" y2="451.44" stroke="#000" stroke-width="1.2" />
<line x1="48.3" y1="433.46" x2="51.3" y2="433.46" stroke="#000" stroke-width="1.2" />
<line x1="48.3" y1="424.46" x2="51.3" y2="424.46" stroke="#000" stroke-width="1.2" />
<line x1="48.3" y1="415.47" x2="51.3" y2="415.47" stroke="#000" stroke-width="1.2" />
<line x1="48.3" y1="397.48" x2="51.3" y2="397.48" stroke="#000" stroke-width="1.2" />
<line x1="48.3" y1="388.49" x2="51.3" y2="388.49" stroke="#000" stroke-width="1.2" />
<line x1="48.3" y1="379.49" x2="51.3" y2="379.49" stroke="#000" stroke-width="1.2" />
<text x="42.2" y="517.16" font-size="9.6" text-anchor="end" fill="#000" stroke="#000" stroke-width="0.18" >0</text>
<text x="42.2" y="481.18" font-size="9.6" text-anchor="end" fill="#000" stroke="#000" stroke-width="0.18" >90</text>
<text x="42.2" y="445.21" font-size="9.6" text-anchor="end" fill="#000" stroke="#000" stroke-width="0.18" >180</text>
<text x="42.2" y="409.24" font-size="9.6" text-anchor="end" fill="#000" stroke="#000" stroke-width="0.18" >270</text>
<text x="42.2" y="373.26" font-size="9.6" text-anchor="end" fill="#000" stroke="#000" stroke-width="0.18" >360</text>
<line x1="51.3" y1="514.4" x2="51.3" y2="519.4" stroke="#000" stroke-width="1.2" />
<line x1="95.83" y1="514.4" x2="95.83" y2="519.4" stroke="#000" stroke-width="1.2" />
<line x1="140.35" y1="514.4" x2="140.35" y2="519.4" stroke="#000" stroke-width="1.2" />
<line x1="184.88" y1="514.4" x2="184.88" y2="519.4" stroke="#000" stroke-width="1.2" />
<line x1="229.4" y1="514.4" x2="229.4" y2="519.4" stroke="#000" stroke-width="1.2" />
<text x="56" y="529.2" font-size="9.6" text-anchor="middle" fill="#000" stroke="#000" stroke-width="0.18" >3-Sep-22</text>
<text x="100.06" y="529.2" font-size="9.6" text-anchor="middle" fill="#000" stroke="#000" stroke-width="0.18" >4-Sep-22</text>
<text x="144.12" y="529.2" font-size="9.6" text-anchor="middle" fill="#000" stroke="#000" stroke-width="0.18" >5-Sep-22</text>
<text x="188.18" y="529.2" font-size="9.6" text-anchor="middle" fill="#000" stroke="#000" stroke-width="0.18" >6-Sep-22</text>
<text x="232.24" y="529.2" font-size="9.6" text-anchor="middle" fill="#000" stroke="#000" stroke-width="0.18" >7-Sep-22</text>
<text x="214" y="383" font-size="16" text-anchor="start" fill="#000" stroke="#000" stroke-width="0.18" >e</text>
<polyline points="332.7,372.4 336,372.6 339.8,375.4 343.6,372.4 349.1,372.4 349.8,400 351.1,480 352,513.8 353.6,512.2 356.9,505.3 359.1,508.6 361.3,509.2 364.2,500.7 368.4,506.7 372.2,510.5 376.5,506.7 380.3,508.6 384.7,508.6 388.5,509.7 390.7,512.2 391.8,514 396.2,514 396.8,480 398.5,405 399.3,373.9 401.5,372.9 404.2,372.6 406.4,374.6 408.5,373.5 411.3,373.2 413.4,371.5 414.2,380 416.3,508.5 418.6,512.2 420.5,405 421.6,370.5 423.8,372.4 426,372.9 429.3,377 432,380.8 434.7,386.3 438,390.3 440.7,393.4 441.7,394.5 443.7,399.1 445.8,399.9 448.3,399.9 450.8,411.5 453.3,419.8 455.8,398.3 457.8,397.8 460.7,405.3 462.8,398.3 465.7,394.1 466.3,400 468,482.6 473.3,407.2 480.4,439.2 483,439.2 485.4,424.3 488.2,439.8 490.4,430.9 495.4,454.3 497.6,451 500.4,454.9 503.1,507.5 505.4,511.3 506.5,440 507.7,372.3 510.2,371.1" fill="none" stroke="#ff1a1a" stroke-width="1.35" stroke-linejoin="round" />
<rect x="332.3" y="370.5" width="178.1" height="144.1" fill="none" stroke="#000" stroke-width="1.2"/>
<line x1="327.3" y1="514.6" x2="332.3" y2="514.6" stroke="#000" stroke-width="1.2" />
<line x1="327.3" y1="478.58" x2="332.3" y2="478.58" stroke="#000" stroke-width="1.2" />
<line x1="327.3" y1="442.55" x2="332.3" y2="442.55" stroke="#000" stroke-width="1.2" />
<line x1="327.3" y1="406.52" x2="332.3" y2="406.52" stroke="#000" stroke-width="1.2" />
<line x1="327.3" y1="370.5" x2="332.3" y2="370.5" stroke="#000" stroke-width="1.2" />
<line x1="329.3" y1="505.59" x2="332.3" y2="505.59" stroke="#000" stroke-width="1.2" />
<line x1="329.3" y1="496.59" x2="332.3" y2="496.59" stroke="#000" stroke-width="1.2" />
<line x1="329.3" y1="487.58" x2="332.3" y2="487.58" stroke="#000" stroke-width="1.2" />
<line x1="329.3" y1="469.57" x2="332.3" y2="469.57" stroke="#000" stroke-width="1.2" />
<line x1="329.3" y1="460.56" x2="332.3" y2="460.56" stroke="#000" stroke-width="1.2" />
<line x1="329.3" y1="451.56" x2="332.3" y2="451.56" stroke="#000" stroke-width="1.2" />
<line x1="329.3" y1="433.54" x2="332.3" y2="433.54" stroke="#000" stroke-width="1.2" />
<line x1="329.3" y1="424.54" x2="332.3" y2="424.54" stroke="#000" stroke-width="1.2" />
<line x1="329.3" y1="415.53" x2="332.3" y2="415.53" stroke="#000" stroke-width="1.2" />
<line x1="329.3" y1="397.52" x2="332.3" y2="397.52" stroke="#000" stroke-width="1.2" />
<line x1="329.3" y1="388.51" x2="332.3" y2="388.51" stroke="#000" stroke-width="1.2" />
<line x1="329.3" y1="379.51" x2="332.3" y2="379.51" stroke="#000" stroke-width="1.2" />
<text x="323.2" y="517.36" font-size="9.6" text-anchor="end" fill="#000" stroke="#000" stroke-width="0.18" >0</text>
<text x="323.2" y="481.34" font-size="9.6" text-anchor="end" fill="#000" stroke="#000" stroke-width="0.18" >90</text>
<text x="323.2" y="445.31" font-size="9.6" text-anchor="end" fill="#000" stroke="#000" stroke-width="0.18" >180</text>
<text x="323.2" y="409.28" font-size="9.6" text-anchor="end" fill="#000" stroke="#000" stroke-width="0.18" >270</text>
<text x="323.2" y="373.26" font-size="9.6" text-anchor="end" fill="#000" stroke="#000" stroke-width="0.18" >360</text>
<line x1="332.3" y1="514.6" x2="332.3" y2="519.6" stroke="#000" stroke-width="1.2" />
<line x1="391.67" y1="514.6" x2="391.67" y2="519.6" stroke="#000" stroke-width="1.2" />
<line x1="451.03" y1="514.6" x2="451.03" y2="519.6" stroke="#000" stroke-width="1.2" />
<line x1="510.4" y1="514.6" x2="510.4" y2="519.6" stroke="#000" stroke-width="1.2" />
<text x="338.25" y="529.4" font-size="9.6" text-anchor="middle" fill="#000" stroke="#000" stroke-width="0.18" >13-Sep-22</text>
<text x="396.88" y="529.4" font-size="9.6" text-anchor="middle" fill="#000" stroke="#000" stroke-width="0.18" >14-Sep-22</text>
<text x="455.51" y="529.4" font-size="9.6" text-anchor="middle" fill="#000" stroke="#000" stroke-width="0.18" >15-Sep-22</text>
<text x="514.14" y="529.4" font-size="9.6" text-anchor="middle" fill="#000" stroke="#000" stroke-width="0.18" >16-Sep-22</text>
<text x="496.6" y="385.8" font-size="16" text-anchor="start" fill="#000" stroke="#000" stroke-width="0.18" >f</text>
<text x="0" y="0" font-size="12.2" text-anchor="middle" stroke="#000" stroke-width="0.18" transform="translate(16.5,438) rotate(-90)">Wind Direction (°)</text>
<text x="0" y="0" font-size="12.2" text-anchor="middle" stroke="#000" stroke-width="0.18" transform="translate(298,437.9) rotate(-90)">Wind Direction (°)</text>
<line x1="97.7" y1="631.2" x2="97.7" y2="558.5" stroke="#dcdcdc" stroke-width="0.8" />
<line x1="97.7" y1="631.2" x2="125.69" y2="564.03" stroke="#dcdcdc" stroke-width="0.8" />
<line x1="97.7" y1="631.2" x2="149.42" y2="579.79" stroke="#dcdcdc" stroke-width="0.8" />
<line x1="97.7" y1="631.2" x2="165.28" y2="603.38" stroke="#dcdcdc" stroke-width="0.8" />
<line x1="97.7" y1="631.2" x2="165.28" y2="659.02" stroke="#dcdcdc" stroke-width="0.8" />
<line x1="97.7" y1="631.2" x2="149.42" y2="682.61" stroke="#dcdcdc" stroke-width="0.8" />
<line x1="97.7" y1="631.2" x2="125.69" y2="698.37" stroke="#dcdcdc" stroke-width="0.8" />
<line x1="97.7" y1="631.2" x2="97.7" y2="703.9" stroke="#dcdcdc" stroke-width="0.8" />
<line x1="97.7" y1="631.2" x2="69.71" y2="698.37" stroke="#dcdcdc" stroke-width="0.8" />
<line x1="97.7" y1="631.2" x2="45.98" y2="682.61" stroke="#dcdcdc" stroke-width="0.8" />
<line x1="97.7" y1="631.2" x2="30.12" y2="659.02" stroke="#dcdcdc" stroke-width="0.8" />
<line x1="97.7" y1="631.2" x2="24.55" y2="631.2" stroke="#dcdcdc" stroke-width="0.8" />
<line x1="97.7" y1="631.2" x2="30.12" y2="603.38" stroke="#dcdcdc" stroke-width="0.8" />
<line x1="97.7" y1="631.2" x2="45.98" y2="579.79" stroke="#dcdcdc" stroke-width="0.8" />
<line x1="97.7" y1="631.2" x2="69.71" y2="564.03" stroke="#dcdcdc" stroke-width="0.8" />
<ellipse cx="97.7" cy="631.2" rx="14.63" ry="14.54" fill="none" stroke="#e2e2e2" stroke-width="0.8" stroke-dasharray="1.8,2.2"/>
<ellipse cx="97.7" cy="631.2" rx="29.26" ry="29.08" fill="none" stroke="#e2e2e2" stroke-width="0.8" stroke-dasharray="1.8,2.2"/>
<ellipse cx="97.7" cy="631.2" rx="43.89" ry="43.62" fill="none" stroke="#e2e2e2" stroke-width="0.8" stroke-dasharray="1.8,2.2"/>
<ellipse cx="97.7" cy="631.2" rx="58.52" ry="58.16" fill="none" stroke="#e2e2e2" stroke-width="0.8" stroke-dasharray="1.8,2.2"/>
<text x="92.5" y="634.2" font-size="8.3" text-anchor="end" fill="#1a1a1a" stroke="#1a1a1a" stroke-width="0.18" >0%</text>
<text x="92.5" y="619.66" font-size="8.3" text-anchor="end" fill="#1a1a1a" stroke="#1a1a1a" stroke-width="0.18" >5%</text>
<text x="92.5" y="605.12" font-size="8.3" text-anchor="end" fill="#1a1a1a" stroke="#1a1a1a" stroke-width="0.18" >10%</text>
<text x="92.5" y="590.58" font-size="8.3" text-anchor="end" fill="#1a1a1a" stroke="#1a1a1a" stroke-width="0.18" >15%</text>
<text x="92.5" y="576.04" font-size="8.3" text-anchor="end" fill="#1a1a1a" stroke="#1a1a1a" stroke-width="0.18" >20%</text>
<text x="92.5" y="561.5" font-size="8.3" text-anchor="end" fill="#1a1a1a" stroke="#1a1a1a" stroke-width="0.18" >25%</text>
<path d="M95.95,619.7 A11.7,11.63 0 0 1 99.45,619.7 L97.7,631.2 Z" fill="#00c6f3" fill-opacity="0.82"/>
<path d="M93.63,604.46 A27.21,27.04 0 0 1 101.77,604.46 L99.45,619.7 A11.7,11.63 0 0 0 95.95,619.7 Z" fill="#f89ac6" fill-opacity="0.82"/>
<path d="M91.84,592.67 A39.21,38.97 0 0 1 103.56,592.67 L101.77,604.46 A27.21,27.04 0 0 0 93.63,604.46 Z" fill="#f65d69" fill-opacity="0.82"/>
<path d="M90.52,584.05 A47.99,47.69 0 0 1 104.88,584.05 L103.56,592.67 A39.21,38.97 0 0 0 91.84,592.67 Z" fill="#a8d4a4" fill-opacity="0.82"/>
<path d="M89.12,574.84 A57.35,57 0 0 1 106.28,574.84 L104.88,584.05 A47.99,47.69 0 0 0 90.52,584.05 Z" fill="#12cd70" fill-opacity="0.82"/>
<path d="M87.33,563.06 A69.35,68.92 0 0 1 108.07,563.06 L106.28,574.84 A57.35,57 0 0 0 89.12,574.84 Z" fill="#fdc49f" fill-opacity="0.82"/>
<path d="M98.75,626.97 A4.39,4.36 0 0 1 99.97,627.46 L97.7,631.2 Z" fill="#00c6f3" fill-opacity="0.82"/>
<path d="M101.57,615.67 A16.09,15.99 0 0 1 106.01,617.5 L99.97,627.46 A4.39,4.36 0 0 0 98.75,626.97 Z" fill="#f89ac6" fill-opacity="0.82"/>
<path d="M102.83,610.59 A21.36,21.23 0 0 1 108.73,613.02 L106.01,617.5 A16.09,15.99 0 0 0 101.57,615.67 Z" fill="#f65d69" fill-opacity="0.82"/>
<path d="M104.17,605.23 A26.92,26.75 0 0 1 111.6,608.29 L108.73,613.02 A21.36,21.23 0 0 0 102.83,610.59 Z" fill="#a8d4a4" fill-opacity="0.82"/>
<path d="M105.08,601.56 A30.72,30.53 0 0 1 113.57,605.05 L111.6,608.29 A26.92,26.75 0 0 0 104.17,605.23 Z" fill="#12cd70" fill-opacity="0.82"/>
<path d="M106.21,597.04 A35.4,35.19 0 0 1 115.99,601.07 L113.57,605.05 A30.72,30.53 0 0 0 105.08,601.56 Z" fill="#fdc49f" fill-opacity="0.82"/>
<path d="M102.21,625.11 A7.61,7.56 0 0 1 103.82,626.71 L97.7,631.2 Z" fill="#00c6f3" fill-opacity="0.82"/>
<path d="M112.98,610.6 A25.75,25.59 0 0 1 118.43,616.01 L103.82,626.71 A7.61,7.56 0 0 0 102.21,625.11 Z" fill="#f89ac6" fill-opacity="0.82"/>
<path d="M99.2,630.3 A1.76,1.74 0 0 1 99.4,630.78 L97.7,631.2 Z" fill="#00c6f3" fill-opacity="0.82"/>
<path d="M130.52,611.52 A38.33,38.09 0 0 1 134.91,622.05 L99.4,630.78 A1.76,1.74 0 0 0 99.2,630.3 Z" fill="#f89ac6" fill-opacity="0.82"/>
<path d="M133.53,609.72 A41.84,41.58 0 0 1 138.32,621.21 L134.91,622.05 A38.33,38.09 0 0 0 130.52,611.52 Z" fill="#f65d69" fill-opacity="0.82"/>
<path d="M111.33,634.55 A14.04,13.96 0 0 1 109.73,638.41 L97.7,631.2 Z" fill="#00c6f3" fill-opacity="0.82"/>
<path d="M98.4,635.8 A4.68,4.65 0 0 1 97,635.8 L97.7,631.2 Z" fill="#00c6f3" fill-opacity="0.82"/>
<path d="M99.21,633.69 A2.93,2.91 0 0 1 98.4,634.02 L97.7,631.2 Z" fill="#00c6f3" fill-opacity="0.82"/>
<path d="M93.01,623.48 A9.07,9.01 0 0 1 95.52,622.45 L97.7,631.2 Z" fill="#00c6f3" fill-opacity="0.82"/>
<path d="M83.34,607.54 A27.8,27.63 0 0 1 91.02,604.38 L95.52,622.45 A9.07,9.01 0 0 0 93.01,623.48 Z" fill="#f89ac6" fill-opacity="0.82"/>
<path d="M80.77,603.31 A32.77,32.57 0 0 1 89.83,599.58 L91.02,604.38 A27.8,27.63 0 0 0 83.34,607.54 Z" fill="#f65d69" fill-opacity="0.82"/>
<path d="M79.26,600.82 A35.7,35.48 0 0 1 89.12,596.76 L89.83,599.58 A32.77,32.57 0 0 0 80.77,603.31 Z" fill="#a8d4a4" fill-opacity="0.82"/>
<path d="M70.34,586.13 A52.96,52.63 0 0 1 84.98,580.11 L89.12,596.76 A35.7,35.48 0 0 0 79.26,600.82 Z" fill="#12cd70" fill-opacity="0.82"/>
<path d="M68.68,583.39 A56.18,55.83 0 0 1 84.2,577 L84.98,580.11 A52.96,52.63 0 0 0 70.34,586.13 Z" fill="#fdc49f" fill-opacity="0.82"/>
<path d="M66.72,580.15 A59.98,59.61 0 0 1 83.29,573.33 L84.2,577 A56.18,55.83 0 0 0 68.68,583.39 Z" fill="#fb964c" fill-opacity="0.82"/>
<path d="M95.34,629.47 A2.93,2.91 0 0 1 95.96,628.86 L97.7,631.2 Z" fill="#00c6f3" fill-opacity="0.82"/>
<path d="M92.99,627.75 A5.85,5.82 0 0 1 94.23,626.52 L95.96,628.86 A2.93,2.91 0 0 0 95.34,629.47 Z" fill="#f89ac6" fill-opacity="0.82"/>
<path d="M89.46,625.16 A10.24,10.18 0 0 1 91.62,623.01 L94.23,626.52 A5.85,5.82 0 0 0 92.99,627.75 Z" fill="#f65d69" fill-opacity="0.82"/>
<path d="M85.45,622.23 A15.22,15.12 0 0 1 88.67,619.03 L91.62,623.01 A10.24,10.18 0 0 0 89.46,625.16 Z" fill="#a8d4a4" fill-opacity="0.82"/>
<path d="M83.1,620.5 A18.14,18.03 0 0 1 86.93,616.69 L88.67,619.03 A15.22,15.12 0 0 0 85.45,622.23 Z" fill="#12cd70" fill-opacity="0.82"/>
<path d="M73.44,613.43 A30.14,29.95 0 0 1 79.82,607.09 L86.93,616.69 A18.14,18.03 0 0 0 83.1,620.5 Z" fill="#fdc49f" fill-opacity="0.82"/>
<line x1="97.7" y1="631.2" x2="170.85" y2="631.2" stroke="#555" stroke-width="1.0" />
<line x1="105.02" y1="631.2" x2="105.02" y2="629.4" stroke="#888" stroke-width="0.7" />
<line x1="112.33" y1="631.2" x2="112.33" y2="629.4" stroke="#888" stroke-width="0.7" />
<line x1="119.65" y1="631.2" x2="119.65" y2="629.4" stroke="#888" stroke-width="0.7" />
<line x1="126.96" y1="631.2" x2="126.96" y2="629.4" stroke="#888" stroke-width="0.7" />
<line x1="134.28" y1="631.2" x2="134.28" y2="629.4" stroke="#888" stroke-width="0.7" />
<line x1="141.59" y1="631.2" x2="141.59" y2="629.4" stroke="#888" stroke-width="0.7" />
<line x1="148.91" y1="631.2" x2="148.91" y2="629.4" stroke="#888" stroke-width="0.7" />
<line x1="156.22" y1="631.2" x2="156.22" y2="629.4" stroke="#888" stroke-width="0.7" />
<line x1="163.54" y1="631.2" x2="163.54" y2="629.4" stroke="#888" stroke-width="0.7" />
<ellipse cx="97.7" cy="631.2" rx="73.15" ry="72.7" fill="none" stroke="#4a4a4a" stroke-width="1.1"/>
<line x1="97.7" y1="562.97" x2="97.7" y2="558.5" stroke="#666" stroke-width="0.9" />
<line x1="123.97" y1="568.17" x2="125.69" y2="564.03" stroke="#666" stroke-width="0.9" />
<line x1="146.24" y1="582.96" x2="149.42" y2="579.79" stroke="#666" stroke-width="0.9" />
<line x1="161.12" y1="605.09" x2="165.28" y2="603.38" stroke="#666" stroke-width="0.9" />
<line x1="166.35" y1="631.2" x2="170.85" y2="631.2" stroke="#666" stroke-width="0.9" />
<line x1="161.12" y1="657.31" x2="165.28" y2="659.02" stroke="#666" stroke-width="0.9" />
<line x1="146.24" y1="679.44" x2="149.42" y2="682.61" stroke="#666" stroke-width="0.9" />
<line x1="123.97" y1="694.23" x2="125.69" y2="698.37" stroke="#666" stroke-width="0.9" />
<line x1="97.7" y1="699.43" x2="97.7" y2="703.9" stroke="#666" stroke-width="0.9" />
<line x1="71.43" y1="694.23" x2="69.71" y2="698.37" stroke="#666" stroke-width="0.9" />
<line x1="49.16" y1="679.44" x2="45.98" y2="682.61" stroke="#666" stroke-width="0.9" />
<line x1="34.28" y1="657.31" x2="30.12" y2="659.02" stroke="#666" stroke-width="0.9" />
<line x1="29.05" y1="631.2" x2="24.55" y2="631.2" stroke="#666" stroke-width="0.9" />
<line x1="34.28" y1="605.09" x2="30.12" y2="603.38" stroke="#666" stroke-width="0.9" />
<line x1="49.16" y1="582.96" x2="45.98" y2="579.79" stroke="#666" stroke-width="0.9" />
<line x1="71.43" y1="568.17" x2="69.71" y2="564.03" stroke="#666" stroke-width="0.9" />
<text x="98.1" y="554.6" font-size="8.7" text-anchor="middle" fill="#111" stroke="#111" stroke-width="0.18" >N</text>
<text x="126.2" y="560.4" font-size="8.7" text-anchor="start" fill="#111" stroke="#111" stroke-width="0.18" >NNE</text>
<text x="150.9" y="577.4" font-size="8.7" text-anchor="start" fill="#111" stroke="#111" stroke-width="0.18" >NE</text>
<text x="166.6" y="601.6" font-size="8.7" text-anchor="start" fill="#111" stroke="#111" stroke-width="0.18" >ENE</text>
<text x="172.3" y="634.8" font-size="8.7" text-anchor="start" fill="#111" stroke="#111" stroke-width="0.18" >E</text>
<text x="166.6" y="668.2" font-size="8.7" text-anchor="start" fill="#111" stroke="#111" stroke-width="0.18" >ESE</text>
<text x="150.1" y="692.7" font-size="8.7" text-anchor="start" fill="#111" stroke="#111" stroke-width="0.18" >SE</text>
<text x="125.8" y="707.6" font-size="8.7" text-anchor="start" fill="#111" stroke="#111" stroke-width="0.18" >SSE</text>
<text x="97.5" y="712.4" font-size="8.7" text-anchor="middle" fill="#111" stroke="#111" stroke-width="0.18" >S</text>
<text x="68.3" y="706.9" font-size="8.7" text-anchor="end" fill="#111" stroke="#111" stroke-width="0.18" >SSW</text>
<text x="44.6" y="692.3" font-size="8.7" text-anchor="end" fill="#111" stroke="#111" stroke-width="0.18" >SW</text>
<text x="29" y="667.2" font-size="8.7" text-anchor="end" fill="#111" stroke="#111" stroke-width="0.18" >WSW</text>
<text x="23.1" y="634" font-size="8.7" text-anchor="end" fill="#111" stroke="#111" stroke-width="0.18" >W</text>
<text x="28.8" y="600" font-size="8.7" text-anchor="end" fill="#111" stroke="#111" stroke-width="0.18" >WNW</text>
<text x="45.4" y="577" font-size="8.7" text-anchor="end" fill="#111" stroke="#111" stroke-width="0.18" >NW</text>
<text x="69.2" y="560.8" font-size="8.7" text-anchor="end" fill="#111" stroke="#111" stroke-width="0.18" >NNW</text>
<line x1="380.8" y1="631" x2="380.8" y2="558.35" stroke="#dcdcdc" stroke-width="0.8" />
<line x1="380.8" y1="631" x2="408.85" y2="563.88" stroke="#dcdcdc" stroke-width="0.8" />
<line x1="380.8" y1="631" x2="432.63" y2="579.63" stroke="#dcdcdc" stroke-width="0.8" />
<line x1="380.8" y1="631" x2="448.52" y2="603.2" stroke="#dcdcdc" stroke-width="0.8" />
<line x1="380.8" y1="631" x2="448.52" y2="658.8" stroke="#dcdcdc" stroke-width="0.8" />
<line x1="380.8" y1="631" x2="432.63" y2="682.37" stroke="#dcdcdc" stroke-width="0.8" />
<line x1="380.8" y1="631" x2="408.85" y2="698.12" stroke="#dcdcdc" stroke-width="0.8" />
<line x1="380.8" y1="631" x2="380.8" y2="703.65" stroke="#dcdcdc" stroke-width="0.8" />
<line x1="380.8" y1="631" x2="352.75" y2="698.12" stroke="#dcdcdc" stroke-width="0.8" />
<line x1="380.8" y1="631" x2="328.97" y2="682.37" stroke="#dcdcdc" stroke-width="0.8" />
<line x1="380.8" y1="631" x2="313.08" y2="658.8" stroke="#dcdcdc" stroke-width="0.8" />
<line x1="380.8" y1="631" x2="307.5" y2="631" stroke="#dcdcdc" stroke-width="0.8" />
<line x1="380.8" y1="631" x2="313.08" y2="603.2" stroke="#dcdcdc" stroke-width="0.8" />
<line x1="380.8" y1="631" x2="328.97" y2="579.63" stroke="#dcdcdc" stroke-width="0.8" />
<line x1="380.8" y1="631" x2="352.75" y2="563.88" stroke="#dcdcdc" stroke-width="0.8" />
<ellipse cx="380.8" cy="631" rx="18.32" ry="18.16" fill="none" stroke="#e2e2e2" stroke-width="0.8" stroke-dasharray="1.8,2.2"/>
<ellipse cx="380.8" cy="631" rx="36.65" ry="36.33" fill="none" stroke="#e2e2e2" stroke-width="0.8" stroke-dasharray="1.8,2.2"/>
<ellipse cx="380.8" cy="631" rx="54.97" ry="54.49" fill="none" stroke="#e2e2e2" stroke-width="0.8" stroke-dasharray="1.8,2.2"/>
<text x="375.6" y="634" font-size="8.3" text-anchor="end" fill="#1a1a1a" stroke="#1a1a1a" stroke-width="0.18" >0%</text>
<text x="375.6" y="615.84" font-size="8.3" text-anchor="end" fill="#1a1a1a" stroke="#1a1a1a" stroke-width="0.18" >10%</text>
<text x="375.6" y="597.67" font-size="8.3" text-anchor="end" fill="#1a1a1a" stroke="#1a1a1a" stroke-width="0.18" >20%</text>
<text x="375.6" y="579.51" font-size="8.3" text-anchor="end" fill="#1a1a1a" stroke="#1a1a1a" stroke-width="0.18" >30%</text>
<text x="375.6" y="561.35" font-size="8.3" text-anchor="end" fill="#1a1a1a" stroke="#1a1a1a" stroke-width="0.18" >40%</text>
<path d="M380.47,628.85 A2.2,2.18 0 0 1 381.13,628.85 L380.8,631 Z" fill="#9acfe8" fill-opacity="0.82"/>
<path d="M379.98,625.61 A5.5,5.45 0 0 1 381.62,625.61 L381.13,628.85 A2.2,2.18 0 0 0 380.47,628.85 Z" fill="#009ce1" fill-opacity="0.82"/>
<path d="M379.76,624.18 A6.96,6.9 0 0 1 381.84,624.18 L381.62,625.61 A5.5,5.45 0 0 0 379.98,625.61 Z" fill="#aae192" fill-opacity="0.82"/>
<path d="M376.66,603.88 A27.67,27.43 0 0 1 384.94,603.88 L381.84,624.18 A6.96,6.9 0 0 0 379.76,624.18 Z" fill="#00cd4e" fill-opacity="0.82"/>
<path d="M375.18,594.19 A37.57,37.23 0 0 1 386.42,594.19 L384.94,603.88 A27.67,27.43 0 0 0 376.66,603.88 Z" fill="#fd9fa5" fill-opacity="0.82"/>
<path d="M373.37,582.33 A49.66,49.22 0 0 1 388.23,582.33 L386.42,594.19 A37.57,37.23 0 0 0 375.18,594.19 Z" fill="#f8444f" fill-opacity="0.82"/>
<path d="M371.76,571.74 A60.47,59.94 0 0 1 389.84,571.74 L388.23,582.33 A49.66,49.22 0 0 0 373.37,582.33 Z" fill="#fdc685" fill-opacity="0.82"/>
<path d="M371.4,569.4 A62.85,62.3 0 0 1 390.2,569.4 L389.84,571.74 A60.47,59.94 0 0 0 371.76,571.74 Z" fill="#fd8e38" fill-opacity="0.82"/>
<path d="M371.04,567.07 A65.24,64.66 0 0 1 390.56,567.07 L390.2,569.4 A62.85,62.3 0 0 0 371.4,569.4 Z" fill="#d4b2e5" fill-opacity="0.82"/>
<path d="M370.69,564.73 A67.62,67.02 0 0 1 390.91,564.73 L390.56,567.07 A65.24,64.66 0 0 0 371.04,567.07 Z" fill="#965acf" fill-opacity="0.82"/>
<path d="M370.33,562.4 A70,69.38 0 0 1 391.27,562.4 L390.91,564.73 A67.62,67.02 0 0 0 370.69,564.73 Z" fill="#fdfa86" fill-opacity="0.82"/>
<path d="M381.15,629.59 A1.47,1.45 0 0 1 381.56,629.76 L380.8,631 Z" fill="#9acfe8" fill-opacity="0.82"/>
<path d="M381.59,627.83 A3.3,3.27 0 0 1 382.5,628.2 L381.56,629.76 A1.47,1.45 0 0 0 381.15,629.59 Z" fill="#009ce1" fill-opacity="0.82"/>
<path d="M387.32,604.91 A27.12,26.88 0 0 1 394.81,607.98 L382.5,628.2 A3.3,3.27 0 0 0 381.59,627.83 Z" fill="#00cd4e" fill-opacity="0.82"/>
<path d="M387.93,602.44 A29.69,29.42 0 0 1 396.13,605.81 L394.81,607.98 A27.12,26.88 0 0 0 387.32,604.91 Z" fill="#fd9fa5" fill-opacity="0.82"/>
<path d="M388.55,599.97 A32.25,31.97 0 0 1 397.46,603.63 L396.13,605.81 A29.69,29.42 0 0 0 387.93,602.44 Z" fill="#fdc685" fill-opacity="0.82"/>
<path d="M380.04,629.76 A1.47,1.45 0 0 1 380.45,629.59 L380.8,631 Z" fill="#9acfe8" fill-opacity="0.82"/>
<path d="M379.38,628.67 A2.75,2.72 0 0 1 380.14,628.36 L380.45,629.59 A1.47,1.45 0 0 0 380.04,629.76 Z" fill="#009ce1" fill-opacity="0.82"/>
<path d="M378.72,627.58 A4.03,4 0 0 1 379.83,627.12 L380.14,628.36 A2.75,2.72 0 0 0 379.38,628.67 Z" fill="#00cd4e" fill-opacity="0.82"/>
<path d="M378.15,626.65 A5.13,5.09 0 0 1 379.57,626.06 L379.83,627.12 A4.03,4 0 0 0 378.72,627.58 Z" fill="#d4b2e5" fill-opacity="0.82"/>
<path d="M377.39,625.4 A6.6,6.54 0 0 1 379.22,624.65 L379.57,626.06 A5.13,5.09 0 0 0 378.15,626.65 Z" fill="#965acf" fill-opacity="0.82"/>
<path d="M379.73,630.74 A1.1,1.09 0 0 1 379.86,630.44 L380.8,631 Z" fill="#9acfe8" fill-opacity="0.82"/>
<path d="M378.67,630.48 A2.2,2.18 0 0 1 378.92,629.87 L379.86,630.44 A1.1,1.09 0 0 0 379.73,630.74 Z" fill="#009ce1" fill-opacity="0.82"/>
<path d="M376.18,629.87 A4.76,4.72 0 0 1 376.72,628.56 L378.92,629.87 A2.2,2.18 0 0 0 378.67,630.48 Z" fill="#00cd4e" fill-opacity="0.82"/>
<path d="M374.75,629.52 A6.23,6.18 0 0 1 375.47,627.81 L376.72,628.56 A4.76,4.72 0 0 0 376.18,629.87 Z" fill="#fdfa86" fill-opacity="0.82"/>
<path d="M370.48,628.47 A10.63,10.53 0 0 1 371.7,625.56 L375.47,627.81 A6.23,6.18 0 0 0 374.75,629.52 Z" fill="#fd9fa5" fill-opacity="0.82"/>
<path d="M366.93,627.6 A14.29,14.17 0 0 1 368.56,623.68 L371.7,625.56 A10.63,10.53 0 0 0 370.48,628.47 Z" fill="#fd8e38" fill-opacity="0.82"/>
<path d="M365.5,627.25 A15.76,15.62 0 0 1 367.31,622.93 L368.56,623.68 A14.29,14.17 0 0 0 366.93,627.6 Z" fill="#d4b2e5" fill-opacity="0.82"/>
<path d="M362.3,626.46 A19.06,18.89 0 0 1 364.48,621.24 L367.31,622.93 A15.76,15.62 0 0 0 365.5,627.25 Z" fill="#965acf" fill-opacity="0.82"/>
<path d="M379.92,630.35 A1.1,1.09 0 0 1 380.15,630.12 L380.8,631 Z" fill="#9acfe8" fill-opacity="0.82"/>
<path d="M378.59,629.38 A2.75,2.72 0 0 1 379.17,628.81 L380.15,630.12 A1.1,1.09 0 0 0 379.92,630.35 Z" fill="#fdfa86" fill-opacity="0.82"/>
<path d="M382.55,642.49 A11.73,11.62 0 0 1 379.05,642.49 L380.8,631 Z" fill="#9acfe8" fill-opacity="0.82"/>
<path d="M380.27,633.12 A2.2,2.18 0 0 1 379.66,632.87 L380.8,631 Z" fill="#9acfe8" fill-opacity="0.82"/>
<path d="M379.66,635.58 A4.76,4.72 0 0 1 378.34,635.04 L379.66,632.87 A2.2,2.18 0 0 0 380.27,633.12 Z" fill="#aae192" fill-opacity="0.82"/>
<path d="M382.22,633.33 A2.75,2.72 0 0 1 381.46,633.64 L380.8,631 Z" fill="#9acfe8" fill-opacity="0.82"/>
<line x1="380.8" y1="631" x2="454.1" y2="631" stroke="#555" stroke-width="1.0" />
<line x1="389.96" y1="631" x2="389.96" y2="629.2" stroke="#888" stroke-width="0.7" />
<line x1="399.12" y1="631" x2="399.12" y2="629.2" stroke="#888" stroke-width="0.7" />
<line x1="408.29" y1="631" x2="408.29" y2="629.2" stroke="#888" stroke-width="0.7" />
<line x1="417.45" y1="631" x2="417.45" y2="629.2" stroke="#888" stroke-width="0.7" />
<line x1="426.61" y1="631" x2="426.61" y2="629.2" stroke="#888" stroke-width="0.7" />
<line x1="435.77" y1="631" x2="435.77" y2="629.2" stroke="#888" stroke-width="0.7" />
<line x1="444.94" y1="631" x2="444.94" y2="629.2" stroke="#888" stroke-width="0.7" />
<ellipse cx="380.8" cy="631" rx="73.3" ry="72.65" fill="none" stroke="#4a4a4a" stroke-width="1.1"/>
<line x1="380.8" y1="562.81" x2="380.8" y2="558.35" stroke="#666" stroke-width="0.9" />
<line x1="407.13" y1="568" x2="408.85" y2="563.88" stroke="#666" stroke-width="0.9" />
<line x1="429.45" y1="582.78" x2="432.63" y2="579.63" stroke="#666" stroke-width="0.9" />
<line x1="444.36" y1="604.9" x2="448.52" y2="603.2" stroke="#666" stroke-width="0.9" />
<line x1="449.6" y1="631" x2="454.1" y2="631" stroke="#666" stroke-width="0.9" />
<line x1="444.36" y1="657.1" x2="448.52" y2="658.8" stroke="#666" stroke-width="0.9" />
<line x1="429.45" y1="679.22" x2="432.63" y2="682.37" stroke="#666" stroke-width="0.9" />
<line x1="407.13" y1="694" x2="408.85" y2="698.12" stroke="#666" stroke-width="0.9" />
<line x1="380.8" y1="699.19" x2="380.8" y2="703.65" stroke="#666" stroke-width="0.9" />
<line x1="354.47" y1="694" x2="352.75" y2="698.12" stroke="#666" stroke-width="0.9" />
<line x1="332.15" y1="679.22" x2="328.97" y2="682.37" stroke="#666" stroke-width="0.9" />
<line x1="317.24" y1="657.1" x2="313.08" y2="658.8" stroke="#666" stroke-width="0.9" />
<line x1="312" y1="631" x2="307.5" y2="631" stroke="#666" stroke-width="0.9" />
<line x1="317.24" y1="604.9" x2="313.08" y2="603.2" stroke="#666" stroke-width="0.9" />
<line x1="332.15" y1="582.78" x2="328.97" y2="579.63" stroke="#666" stroke-width="0.9" />
<line x1="354.47" y1="568" x2="352.75" y2="563.88" stroke="#666" stroke-width="0.9" />
<text x="381.5" y="554.8" font-size="8.7" text-anchor="middle" fill="#111" stroke="#111" stroke-width="0.18" >N</text>
<text x="409.5" y="560.4" font-size="8.7" text-anchor="start" fill="#111" stroke="#111" stroke-width="0.18" >NNE</text>
<text x="434" y="577.4" font-size="8.7" text-anchor="start" fill="#111" stroke="#111" stroke-width="0.18" >NE</text>
<text x="449.6" y="601.6" font-size="8.7" text-anchor="start" fill="#111" stroke="#111" stroke-width="0.18" >ENE</text>
<text x="455.6" y="634.6" font-size="8.7" text-anchor="start" fill="#111" stroke="#111" stroke-width="0.18" >E</text>
<text x="449.6" y="668.2" font-size="8.7" text-anchor="start" fill="#111" stroke="#111" stroke-width="0.18" >ESE</text>
<text x="433.1" y="692.7" font-size="8.7" text-anchor="start" fill="#111" stroke="#111" stroke-width="0.18" >SE</text>
<text x="408.6" y="708" font-size="8.7" text-anchor="start" fill="#111" stroke="#111" stroke-width="0.18" >SSE</text>
<text x="380.4" y="712.4" font-size="8.7" text-anchor="middle" fill="#111" stroke="#111" stroke-width="0.18" >S</text>
<text x="351.6" y="707.6" font-size="8.7" text-anchor="end" fill="#111" stroke="#111" stroke-width="0.18" >SSW</text>
<text x="327.4" y="692.7" font-size="8.7" text-anchor="end" fill="#111" stroke="#111" stroke-width="0.18" >SW</text>
<text x="311.8" y="667.7" font-size="8.7" text-anchor="end" fill="#111" stroke="#111" stroke-width="0.18" >WSW</text>
<text x="306.2" y="634" font-size="8.7" text-anchor="end" fill="#111" stroke="#111" stroke-width="0.18" >W</text>
<text x="311.6" y="600.1" font-size="8.7" text-anchor="end" fill="#111" stroke="#111" stroke-width="0.18" >WNW</text>
<text x="328.2" y="576.8" font-size="8.7" text-anchor="end" fill="#111" stroke="#111" stroke-width="0.18" >NW</text>
<text x="352.3" y="560.7" font-size="8.7" text-anchor="end" fill="#111" stroke="#111" stroke-width="0.18" >NNW</text>
<text x="192.2" y="586.8" font-size="8.8" text-anchor="start" fill="#111" stroke="#111" stroke-width="0.18" >Wind Speed (m/s)</text>
<rect x="202.9" y="592" width="17.5" height="8.1" fill="#c8c5e8"/>
<text x="222.8" y="599.3" font-size="8.4" text-anchor="start" fill="#111" stroke="#111" stroke-width="0.18" word-spacing="-1.2">&gt;= 16</text>
<rect x="202.9" y="601.95" width="17.5" height="8.1" fill="#fca96c"/>
<text x="222.8" y="609.25" font-size="8.4" text-anchor="start" fill="#111" stroke="#111" stroke-width="0.18" word-spacing="-1.2">14<tspan dx="0.7">~</tspan><tspan dx="0.7">16</tspan></text>
<rect x="202.9" y="611.9" width="17.5" height="8.1" fill="#fdcfb0"/>
<text x="222.8" y="619.2" font-size="8.4" text-anchor="start" fill="#111" stroke="#111" stroke-width="0.18" word-spacing="-1.2">12<tspan dx="0.7">~</tspan><tspan dx="0.7">14</tspan></text>
<rect x="202.9" y="621.85" width="17.5" height="8.1" fill="#3dd68a"/>
<text x="222.8" y="629.15" font-size="8.4" text-anchor="start" fill="#111" stroke="#111" stroke-width="0.18" word-spacing="-1.2">10<tspan dx="0.7">~</tspan><tspan dx="0.7">12</tspan></text>
<rect x="202.9" y="631.8" width="17.5" height="8.1" fill="#b8dcb4"/>
<text x="222.8" y="639.1" font-size="8.4" text-anchor="start" fill="#111" stroke="#111" stroke-width="0.18" word-spacing="-1.2">8<tspan dx="0.7">~</tspan><tspan dx="0.7">10</tspan></text>
<rect x="202.9" y="641.75" width="17.5" height="8.1" fill="#f87a84"/>
<text x="222.8" y="649.05" font-size="8.4" text-anchor="start" fill="#111" stroke="#111" stroke-width="0.18" word-spacing="-1.2">6<tspan dx="0.7">~</tspan><tspan dx="0.7">8</tspan></text>
<rect x="202.9" y="651.7" width="17.5" height="8.1" fill="#f9acd0"/>
<text x="222.8" y="659" font-size="8.4" text-anchor="start" fill="#111" stroke="#111" stroke-width="0.18" word-spacing="-1.2">4<tspan dx="0.7">~</tspan><tspan dx="0.7">6</tspan></text>
<rect x="202.9" y="661.65" width="17.5" height="8.1" fill="#00d0f5"/>
<text x="222.8" y="668.95" font-size="8.4" text-anchor="start" fill="#111" stroke="#111" stroke-width="0.18" word-spacing="-1.2">2<tspan dx="0.7">~</tspan><tspan dx="0.7">4</tspan></text>
<rect x="202.9" y="671.6" width="17.5" height="8.1" fill="#a6dcf2"/>
<text x="222.8" y="678.9" font-size="8.4" text-anchor="start" fill="#111" stroke="#111" stroke-width="0.18" word-spacing="-1.2">0<tspan dx="0.7">~</tspan><tspan dx="0.7">2</tspan></text>
<text x="202.3" y="689.5" font-size="8.2" text-anchor="start" fill="#111" stroke="#111" stroke-width="0.18" >Calms: 0</text>
<text x="475.8" y="585.6" font-size="8.8" text-anchor="start" fill="#111" stroke="#111" stroke-width="0.18" >Wind Speed (m/s)</text>
<rect x="485.9" y="591.4" width="18" height="8.1" fill="#fa9270"/>
<text x="506.3" y="598.7" font-size="8.4" text-anchor="start" fill="#111" stroke="#111" stroke-width="0.18" word-spacing="-1.2">&gt;= 22</text>
<rect x="485.9" y="601.35" width="18" height="8.1" fill="#fdfb9c"/>
<text x="506.3" y="608.65" font-size="8.4" text-anchor="start" fill="#111" stroke="#111" stroke-width="0.18" word-spacing="-1.2">20<tspan dx="0.7">~</tspan><tspan dx="0.7">22</tspan></text>
<rect x="485.9" y="611.3" width="18" height="8.1" fill="#a978d8"/>
<text x="506.3" y="618.6" font-size="8.4" text-anchor="start" fill="#111" stroke="#111" stroke-width="0.18" word-spacing="-1.2">18<tspan dx="0.7">~</tspan><tspan dx="0.7">20</tspan></text>
<rect x="485.9" y="621.25" width="18" height="8.1" fill="#dcc0ea"/>
<text x="506.3" y="628.55" font-size="8.4" text-anchor="start" fill="#111" stroke="#111" stroke-width="0.18" word-spacing="-1.2">16<tspan dx="0.7">~</tspan><tspan dx="0.7">18</tspan></text>
<rect x="485.9" y="631.2" width="18" height="8.1" fill="#fda25c"/>
<text x="506.3" y="638.5" font-size="8.4" text-anchor="start" fill="#111" stroke="#111" stroke-width="0.18" word-spacing="-1.2">14<tspan dx="0.7">~</tspan><tspan dx="0.7">16</tspan></text>
<rect x="485.9" y="641.15" width="18" height="8.1" fill="#fdd09b"/>
<text x="506.3" y="648.45" font-size="8.4" text-anchor="start" fill="#111" stroke="#111" stroke-width="0.18" word-spacing="-1.2">12<tspan dx="0.7">~</tspan><tspan dx="0.7">14</tspan></text>
<rect x="485.9" y="651.1" width="18" height="8.1" fill="#f9666f"/>
<text x="506.3" y="658.4" font-size="8.4" text-anchor="start" fill="#111" stroke="#111" stroke-width="0.18" word-spacing="-1.2">10<tspan dx="0.7">~</tspan><tspan dx="0.7">12</tspan></text>
<rect x="485.9" y="661.05" width="18" height="8.1" fill="#fdb0b5"/>
<text x="506.3" y="668.35" font-size="8.4" text-anchor="start" fill="#111" stroke="#111" stroke-width="0.18" word-spacing="-1.2">8<tspan dx="0.7">~</tspan><tspan dx="0.7">10</tspan></text>
<rect x="485.9" y="671" width="18" height="8.1" fill="#1fd66e"/>
<text x="506.3" y="678.3" font-size="8.4" text-anchor="start" fill="#111" stroke="#111" stroke-width="0.18" word-spacing="-1.2">6<tspan dx="0.7">~</tspan><tspan dx="0.7">8</tspan></text>
<rect x="485.9" y="680.95" width="18" height="8.1" fill="#b9e6a6"/>
<text x="506.3" y="688.25" font-size="8.4" text-anchor="start" fill="#111" stroke="#111" stroke-width="0.18" word-spacing="-1.2">4<tspan dx="0.7">~</tspan><tspan dx="0.7">6</tspan></text>
<rect x="485.9" y="690.9" width="18" height="8.1" fill="#2aaee6"/>
<text x="506.3" y="698.2" font-size="8.4" text-anchor="start" fill="#111" stroke="#111" stroke-width="0.18" word-spacing="-1.2">2<tspan dx="0.7">~</tspan><tspan dx="0.7">4</tspan></text>
<rect x="485.9" y="700.85" width="18" height="8.1" fill="#acd8ec"/>
<text x="506.3" y="708.15" font-size="8.4" text-anchor="start" fill="#111" stroke="#111" stroke-width="0.18" word-spacing="-1.2">0<tspan dx="0.7">~</tspan><tspan dx="0.7">2</tspan></text>
<text x="485.3" y="717.7" font-size="8.2" text-anchor="start" fill="#111" stroke="#111" stroke-width="0.18" >Calms: 0</text>
<text x="215" y="559" font-size="16" text-anchor="start" fill="#000" stroke="#000" stroke-width="0.18" >g</text>
<text x="493" y="558.4" font-size="16" text-anchor="start" fill="#000" stroke="#000" stroke-width="0.18" >h</text></svg>
</body></html>
